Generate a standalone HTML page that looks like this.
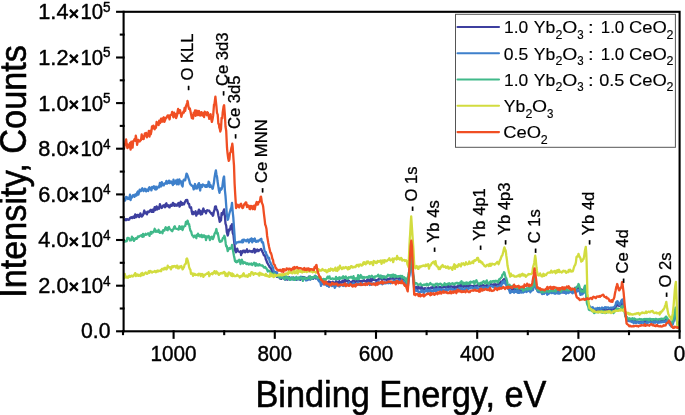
<!DOCTYPE html>
<html><head><meta charset="utf-8"><title>XPS survey spectra</title>
<style>html,body{margin:0;padding:0;background:#fff;}body{width:685px;height:415px;overflow:hidden;position:relative;font-family:"Liberation Sans",Arial,sans-serif;}</style>
</head><body>
<svg width="685" height="415" viewBox="0 0 685 415" style="position:absolute;left:0;top:0">
<rect x="0" y="0" width="685" height="415" fill="#fff"/>
<g fill="none" stroke-width="2.3" stroke-linejoin="round" stroke-linecap="round">
<path stroke="#3d3f9f" d="M124.1,220.0 L124.8,219.7 L125.4,219.3 L126.1,220.2 L126.7,219.2 L127.4,219.2 L128.0,219.8 L128.7,219.6 L129.3,219.5 L130.0,217.9 L130.6,217.7 L131.3,217.1 L131.9,218.0 L132.6,218.1 L133.2,216.6 L134.0,216.5 L134.5,217.9 L135.2,214.4 L135.8,216.5 L136.5,217.0 L137.1,215.1 L137.8,214.8 L138.4,215.2 L139.1,217.1 L139.7,216.0 L140.4,213.4 L141.0,215.2 L141.7,216.6 L142.3,216.0 L143.0,215.0 L143.6,213.4 L144.0,211.6 L144.3,210.5 L144.9,213.3 L145.6,212.3 L146.2,212.8 L146.9,214.4 L147.5,211.7 L148.2,211.7 L148.8,212.3 L149.5,211.0 L150.1,210.4 L150.8,209.8 L151.4,211.9 L152.1,211.9 L152.7,209.6 L153.4,211.8 L154.0,210.0 L154.7,207.1 L155.3,210.0 L156.0,208.5 L156.6,206.4 L157.3,209.5 L157.9,207.6 L158.6,207.2 L159.2,208.7 L159.9,204.1 L160.5,205.9 L161.2,207.3 L161.8,208.0 L162.5,206.3 L163.1,205.6 L163.8,205.3 L164.4,206.7 L165.1,207.3 L165.7,204.0 L166.4,203.3 L167.0,206.2 L167.7,205.8 L168.0,205.5 L168.3,205.2 L169.0,207.1 L169.6,207.4 L170.3,205.1 L170.9,204.7 L171.6,205.9 L172.2,204.7 L172.9,202.9 L173.5,205.4 L174.2,203.9 L174.8,205.9 L175.5,204.5 L176.0,204.9 L176.8,205.8 L177.4,204.6 L178.1,203.4 L178.7,202.9 L179.4,206.6 L180.0,206.0 L180.7,201.7 L181.3,202.3 L182.0,204.8 L182.6,203.2 L183.0,203.8 L183.3,203.9 L183.9,204.5 L184.6,202.8 L185.2,201.6 L185.5,201.0 L185.9,200.2 L186.5,200.0 L187.2,200.0 L187.5,200.8 L187.8,202.8 L188.5,203.9 L189.1,204.0 L189.5,206.2 L189.8,207.4 L190.4,207.9 L191.1,207.3 L191.7,211.3 L192.3,214.1 L193.0,211.9 L193.7,214.1 L194.3,212.8 L195.0,213.4 L195.6,211.3 L196.3,215.7 L196.9,213.4 L197.6,213.9 L198.0,212.2 L198.9,209.7 L199.5,213.3 L200.2,210.8 L200.8,214.6 L201.5,211.7 L202.1,214.1 L202.8,210.2 L203.4,208.5 L204.3,211.6 L204.7,211.0 L205.4,211.1 L206.0,213.3 L206.7,210.7 L207.3,210.2 L208.0,210.6 L208.6,210.7 L209.0,210.7 L209.3,210.7 L209.9,212.1 L210.6,212.7 L211.2,213.8 L211.9,213.2 L212.5,215.2 L212.8,215.8 L213.2,215.3 L213.8,211.7 L214.5,210.0 L215.1,206.5 L215.9,206.3 L216.4,209.1 L217.1,209.9 L217.8,211.9 L218.4,215.5 L219.0,217.9 L219.7,221.8 L220.0,221.6 L220.3,219.8 L221.0,220.4 L221.6,213.2 L222.0,214.1 L222.3,214.7 L222.9,212.5 L223.6,211.0 L224.1,209.4 L224.9,216.1 L225.5,223.7 L225.5,223.7 L226.2,225.6 L226.8,232.0 L226.8,232.0 L227.7,235.5 L228.1,234.6 L228.8,229.6 L229.4,230.5 L229.8,229.7 L230.1,229.5 L230.7,226.1 L231.4,225.7 L232.0,224.1 L232.0,224.1 L232.7,232.8 L233.5,235.1 L234.0,240.4 L234.6,245.6 L235.0,250.6 L235.3,250.8 L235.9,252.3 L236.6,250.6 L237.2,248.6 L237.9,251.0 L238.5,251.5 L239.2,251.8 L240.0,252.0 L240.5,251.3 L241.1,255.0 L241.8,251.5 L242.4,252.7 L243.1,250.7 L243.7,251.6 L244.4,250.6 L245.0,252.4 L245.3,252.1 L245.7,251.6 L246.3,250.8 L247.0,249.3 L247.6,252.1 L248.3,251.8 L248.9,251.5 L249.6,250.6 L250.2,251.4 L250.9,251.6 L251.5,251.1 L252.2,252.1 L253.0,250.7 L253.5,251.1 L254.1,248.8 L254.8,252.7 L255.4,249.7 L256.1,251.0 L256.7,251.4 L257.4,249.5 L258.0,250.1 L258.7,251.0 L259.0,250.5 L259.3,250.0 L260.0,249.7 L260.6,249.4 L261.0,249.0 L261.3,249.2 L261.9,250.8 L262.6,252.2 L263.0,252.9 L263.9,255.3 L264.5,255.2 L265.2,256.3 L265.8,259.3 L265.8,259.3 L266.5,260.6 L267.1,262.6 L268.0,264.0 L268.4,264.9 L269.1,265.9 L269.7,267.4 L270.6,267.6 L271.0,268.7 L271.7,269.8 L272.3,271.8 L273.0,271.3 L273.6,273.0 L274.0,273.2 L274.3,273.2 L274.9,271.8 L275.6,274.9 L276.2,275.2 L276.9,276.7 L277.5,275.1 L278.2,277.1 L279.0,277.2 L279.5,276.4 L280.1,278.5 L280.8,277.8 L281.4,278.9 L282.1,276.8 L282.7,277.6 L283.4,277.6 L284.0,277.0 L284.7,278.4 L285.0,279.0 L285.3,279.5 L286.0,278.2 L286.6,278.9 L287.3,279.7 L287.9,279.1 L288.6,278.2 L289.2,277.2 L289.9,278.9 L290.5,278.4 L291.2,278.3 L291.8,279.1 L292.5,279.0 L293.1,277.4 L293.8,278.8 L294.4,278.3 L295.0,279.2 L295.7,278.8 L296.4,279.7 L297.0,278.5 L297.7,278.6 L298.3,278.5 L299.0,278.8 L299.6,278.8 L300.3,279.9 L300.9,277.9 L301.6,278.7 L302.2,277.3 L302.9,276.9 L303.5,277.7 L304.2,277.1 L305.0,278.5 L305.5,278.0 L306.1,277.8 L306.8,278.9 L307.4,280.0 L308.1,278.4 L308.7,276.8 L309.4,277.8 L310.0,278.1 L310.7,279.3 L311.3,278.1 L312.0,277.4 L312.6,278.6 L313.0,278.7 L313.3,278.8 L313.9,277.5 L314.6,277.5 L315.2,277.4 L316.0,278.5 L316.5,276.8 L317.2,277.5 L317.8,278.3 L318.5,279.6 L319.1,279.0 L319.8,279.8 L320.4,280.5 L321.1,281.8 L321.7,280.6 L322.4,281.0 L323.0,281.4 L323.0,281.4 L323.7,280.5 L324.3,281.1 L325.0,282.0 L325.6,282.0 L326.3,283.9 L326.9,282.7 L327.6,282.1 L328.2,282.8 L328.9,281.5 L329.5,281.8 L330.0,281.9 L330.8,282.4 L331.5,284.1 L332.1,282.3 L332.8,281.8 L333.4,282.3 L334.1,283.0 L334.7,282.6 L335.4,282.8 L336.0,281.3 L336.7,281.6 L337.3,282.3 L338.0,282.5 L338.6,283.5 L339.3,281.1 L339.9,282.8 L340.6,282.1 L341.2,282.7 L341.9,281.4 L342.5,280.7 L343.2,282.5 L343.8,281.8 L344.5,279.9 L345.1,281.8 L345.8,280.2 L346.4,281.2 L347.1,281.1 L347.7,280.0 L348.4,282.2 L349.0,280.9 L349.7,282.9 L350.3,282.3 L351.0,282.0 L351.6,281.9 L352.3,283.6 L352.9,280.8 L353.5,280.8 L354.2,280.9 L354.9,282.1 L355.5,282.0 L356.2,281.0 L356.8,281.0 L357.5,279.4 L358.1,282.3 L358.8,281.0 L359.4,281.3 L360.1,281.0 L360.7,281.7 L361.4,280.9 L362.0,281.5 L362.7,281.4 L363.3,280.5 L364.0,280.2 L364.6,281.2 L365.3,281.2 L365.9,281.5 L366.6,281.9 L367.2,279.6 L367.9,279.1 L368.5,280.6 L369.2,281.8 L369.8,280.7 L370.5,279.0 L371.1,281.6 L371.8,280.6 L372.4,278.8 L373.1,278.9 L373.7,279.9 L374.4,279.4 L375.0,280.0 L375.7,280.6 L376.3,280.1 L376.8,280.8 L377.6,279.8 L378.3,280.7 L378.9,278.7 L379.6,278.3 L380.2,277.5 L380.9,278.5 L381.5,279.5 L382.2,280.1 L382.8,276.4 L383.5,279.4 L384.1,278.3 L384.8,279.5 L385.4,278.2 L386.1,278.9 L386.7,280.2 L387.4,279.0 L388.0,278.6 L388.7,279.6 L389.3,279.2 L390.0,278.7 L390.6,277.6 L391.3,278.5 L391.9,277.2 L392.6,278.6 L393.2,278.7 L393.9,277.9 L394.5,279.4 L395.2,276.7 L395.5,277.5 L395.8,278.2 L396.5,277.9 L397.1,277.0 L397.8,278.5 L398.4,278.8 L399.1,279.1 L399.7,278.3 L400.4,278.7 L401.0,277.5 L401.7,279.1 L402.3,279.6 L403.0,278.4 L403.6,279.0 L404.3,278.5 L404.9,280.0 L405.5,280.4 L406.2,282.9 L406.9,283.2 L407.5,287.2 L407.5,287.2 L408.2,281.7 L408.8,277.9 L409.5,272.4 L410.1,265.3 L410.8,260.3 L411.2,254.7 L412.1,262.6 L412.7,272.1 L413.0,275.8 L413.4,278.5 L414.0,283.3 L414.5,289.0 L415.3,287.3 L416.0,289.3 L416.6,286.9 L417.3,289.3 L417.9,288.1 L418.6,286.9 L419.2,288.5 L420.0,288.2 L420.5,287.4 L421.2,289.1 L421.8,287.0 L422.5,288.9 L423.1,288.6 L423.8,289.6 L424.4,288.2 L425.1,289.4 L425.7,288.2 L426.4,289.2 L427.0,289.0 L427.7,289.4 L428.3,287.7 L429.0,288.7 L429.6,288.4 L430.0,288.9 L430.3,289.2 L430.9,287.6 L431.6,287.4 L432.2,288.0 L432.9,288.0 L433.5,285.7 L434.2,287.4 L434.8,288.1 L435.5,287.6 L436.1,286.6 L436.8,287.8 L437.4,287.9 L438.1,287.3 L438.7,287.8 L439.4,287.0 L440.0,287.3 L440.7,286.9 L441.3,288.1 L442.0,287.1 L442.6,287.6 L443.0,287.1 L443.3,286.8 L443.9,285.8 L444.6,285.7 L445.2,287.6 L445.9,285.7 L446.5,285.5 L447.2,287.4 L447.8,286.0 L448.5,285.5 L449.1,287.7 L449.8,285.7 L450.4,286.9 L451.1,286.4 L451.7,286.5 L452.4,286.7 L453.0,287.5 L453.7,287.9 L454.3,286.2 L455.0,287.9 L455.6,286.8 L456.3,286.7 L456.9,287.3 L457.6,286.2 L458.2,285.9 L458.9,287.7 L459.5,286.0 L460.2,284.6 L460.8,283.6 L461.5,286.5 L462.1,286.2 L462.8,287.6 L463.4,285.1 L464.1,285.0 L464.7,285.9 L465.4,287.1 L466.0,287.1 L466.7,285.8 L467.3,285.2 L468.0,285.9 L468.6,287.0 L469.5,285.5 L469.9,285.2 L470.6,285.9 L471.2,285.9 L471.9,285.9 L472.5,287.3 L473.2,286.5 L473.8,285.9 L474.5,285.8 L475.1,285.8 L475.8,286.4 L476.4,286.3 L477.1,285.3 L477.7,285.1 L478.4,285.5 L479.0,284.9 L479.7,286.1 L480.3,284.4 L481.0,285.6 L481.6,286.2 L482.3,284.8 L482.9,284.9 L483.6,285.4 L484.2,286.1 L484.9,285.9 L485.5,285.9 L486.2,286.6 L486.8,285.2 L487.5,285.0 L488.1,286.1 L488.8,285.8 L489.4,286.3 L490.0,286.1 L490.7,284.6 L491.4,283.8 L492.0,285.8 L492.7,285.2 L493.3,285.2 L494.0,284.2 L494.6,285.3 L495.3,284.3 L495.9,284.7 L496.6,285.0 L497.2,284.3 L497.9,284.3 L498.6,284.1 L499.2,286.2 L499.8,282.6 L500.5,283.8 L501.1,281.5 L502.0,281.8 L502.4,282.4 L503.1,280.0 L503.7,280.6 L504.2,279.0 L505.0,281.3 L505.7,280.8 L506.5,283.5 L507.0,285.7 L507.6,285.9 L508.3,286.1 L509.0,287.8 L509.6,286.5 L510.2,288.4 L510.9,287.8 L511.5,288.3 L512.2,290.2 L512.8,288.9 L513.5,288.8 L514.1,288.5 L514.8,289.9 L515.4,290.0 L516.1,289.1 L516.7,288.6 L517.0,289.0 L517.4,289.4 L518.0,289.9 L518.7,288.4 L519.3,290.7 L520.0,289.2 L520.6,290.0 L521.3,289.4 L521.9,289.4 L522.6,290.7 L523.2,290.0 L523.9,288.7 L524.5,289.8 L525.2,289.9 L525.8,289.1 L526.5,290.0 L527.1,288.5 L527.7,289.8 L528.4,289.4 L529.1,289.6 L529.7,290.7 L530.4,290.2 L531.0,289.3 L531.7,289.9 L532.3,287.9 L533.0,287.6 L533.5,287.0 L534.3,284.1 L534.8,280.8 L535.6,284.1 L536.2,287.4 L536.2,287.4 L536.9,289.1 L537.5,289.8 L537.8,291.0 L538.2,291.4 L538.8,291.5 L539.5,292.1 L540.1,291.1 L540.8,291.0 L541.4,290.4 L542.1,290.3 L542.7,291.8 L543.4,291.4 L544.0,291.2 L544.7,292.5 L545.0,292.3 L545.3,292.1 L546.0,291.6 L546.6,292.3 L547.3,291.5 L547.9,292.3 L548.6,291.9 L549.2,291.2 L550.0,291.2 L550.5,290.9 L551.2,292.0 L551.8,291.2 L552.5,290.4 L553.1,291.8 L553.8,291.9 L554.4,291.6 L555.1,291.8 L555.7,291.5 L556.4,291.4 L557.0,292.4 L557.7,290.9 L558.3,290.4 L559.0,290.5 L559.6,292.0 L560.3,290.6 L560.9,291.1 L561.6,290.8 L562.2,290.8 L562.9,291.3 L563.5,291.2 L564.2,292.8 L564.8,291.0 L565.5,291.4 L566.1,292.4 L566.8,291.8 L567.4,291.5 L568.1,291.7 L568.7,290.9 L569.4,291.7 L570.0,291.4 L570.7,290.6 L571.3,292.4 L572.0,290.9 L572.6,291.3 L573.0,290.9 L573.3,290.5 L573.9,289.7 L574.6,289.0 L575.2,287.7 L576.0,290.1 L576.5,288.1 L577.2,288.4 L577.8,287.9 L578.5,286.1 L579.1,287.9 L579.8,290.1 L580.5,291.0 L581.1,291.5 L581.7,289.5 L582.4,291.9 L583.0,292.2 L583.0,292.2 L583.7,289.6 L584.3,290.2 L585.0,288.4 L585.3,288.1 L585.6,290.1 L586.3,294.7 L586.6,296.2 L586.9,297.3 L587.6,302.5 L588.0,304.6 L588.9,306.6 L589.5,307.1 L590.2,308.3 L590.5,308.5 L590.8,308.3 L591.5,309.1 L592.1,308.6 L592.8,309.1 L593.4,309.1 L594.1,310.1 L594.4,309.9 L594.7,309.7 L595.4,311.4 L596.0,309.7 L596.7,309.1 L597.3,310.8 L598.0,310.0 L598.6,310.4 L599.3,310.3 L599.9,309.8 L600.6,309.9 L601.2,309.6 L602.0,310.8 L602.5,310.5 L603.2,309.6 L603.8,310.8 L604.5,310.6 L605.1,309.3 L605.8,309.6 L606.4,310.2 L607.1,310.2 L607.7,311.0 L608.4,309.8 L609.0,310.2 L609.7,309.6 L610.3,309.9 L610.9,309.9 L611.6,309.7 L612.3,309.7 L612.9,309.6 L613.6,308.6 L614.2,309.7 L614.5,309.2 L614.9,308.1 L615.5,308.0 L616.2,306.5 L616.8,305.2 L617.2,303.8 L617.5,303.8 L618.1,305.0 L618.8,305.8 L619.4,305.7 L619.7,305.8 L620.1,304.8 L620.7,305.6 L621.4,303.3 L622.0,302.1 L622.3,301.5 L622.7,302.6 L623.3,304.8 L624.0,306.6 L624.6,310.4 L625.3,313.6 L625.6,315.4 L625.9,316.0 L626.6,318.5 L627.2,318.7 L628.0,320.0 L628.5,320.1 L629.2,320.0 L629.8,321.0 L630.5,321.1 L631.1,320.2 L631.8,321.1 L632.4,321.0 L633.1,322.0 L633.7,321.4 L634.4,320.3 L635.0,320.9 L635.7,321.6 L636.0,321.6 L636.3,321.5 L637.0,322.0 L637.6,321.5 L638.3,321.6 L638.9,322.3 L639.6,321.8 L640.2,321.6 L640.9,322.7 L641.5,321.6 L642.2,321.5 L642.8,321.1 L643.5,321.6 L644.1,320.7 L644.8,322.1 L645.4,320.6 L646.1,321.7 L646.7,321.0 L647.4,321.4 L648.0,321.9 L648.8,321.4 L649.3,321.5 L650.0,320.9 L650.6,321.2 L651.3,321.7 L651.9,321.0 L652.6,321.8 L653.2,321.4 L653.9,321.2 L654.5,321.6 L655.2,320.8 L655.8,321.4 L656.5,320.6 L657.1,321.0 L657.8,320.6 L658.4,321.2 L659.1,321.5 L659.7,321.6 L660.4,321.3 L661.0,321.2 L661.5,321.0 L662.3,320.9 L663.0,320.5 L663.6,321.7 L664.3,320.6 L665.0,320.4 L665.6,320.1 L666.2,319.3 L666.5,319.5 L666.9,320.4 L667.5,320.2 L668.2,320.6 L668.5,321.6 L668.8,322.6 L669.5,323.2 L670.1,323.9 L670.8,324.2 L671.5,326.0 L672.1,324.0 L672.7,322.2 L673.5,320.4 L674.0,318.0 L674.7,315.0 L675.3,311.4 L675.7,310.8 L676.0,313.5 L676.6,317.5 L677.0,321.3 L677.3,322.6 L677.9,325.1 L678.5,327.6"/>
<path stroke="#3e80cb" d="M124.1,198.6 L124.8,200.7 L125.4,199.9 L126.1,196.8 L126.7,197.4 L127.4,197.3 L128.0,199.0 L128.7,198.0 L129.3,198.8 L130.0,194.6 L130.6,200.1 L131.3,196.8 L131.9,197.6 L132.6,195.7 L133.2,195.0 L134.0,196.2 L134.5,196.9 L135.2,194.5 L135.8,194.5 L136.5,195.5 L137.1,192.8 L137.8,191.5 L138.4,194.6 L139.1,192.2 L139.7,189.6 L140.4,191.1 L141.0,191.1 L141.7,189.4 L142.3,188.3 L143.0,190.2 L143.6,191.1 L144.1,190.0 L144.9,188.7 L145.6,190.8 L146.2,191.4 L146.9,189.5 L147.5,190.4 L148.2,191.0 L148.8,188.2 L149.5,187.1 L150.1,189.4 L150.8,188.3 L151.4,190.4 L152.1,187.0 L152.7,188.1 L153.4,187.8 L154.0,186.3 L154.7,188.8 L155.3,189.5 L156.0,186.7 L156.6,189.3 L157.3,188.0 L157.9,187.4 L158.6,186.3 L159.2,187.2 L159.9,182.9 L160.5,186.4 L161.2,186.3 L161.8,182.1 L162.5,185.2 L163.1,184.0 L163.8,185.4 L164.4,183.3 L165.1,183.4 L165.7,183.6 L166.4,180.8 L167.0,183.6 L167.7,182.3 L168.2,182.9 L169.0,180.6 L169.6,183.2 L170.3,182.8 L170.9,181.4 L171.6,182.5 L172.2,183.6 L172.9,185.0 L173.5,179.7 L174.2,183.9 L174.8,183.1 L175.5,182.1 L176.0,180.5 L176.8,184.3 L177.4,179.6 L178.1,182.5 L178.7,184.4 L179.4,179.4 L180.0,182.0 L180.7,180.9 L181.3,183.6 L182.0,185.5 L182.6,186.5 L183.1,181.2 L183.9,179.6 L184.6,180.3 L185.2,180.3 L185.2,180.3 L185.9,176.8 L186.5,173.6 L187.0,174.1 L187.8,176.2 L188.5,178.3 L189.3,180.6 L189.8,183.0 L190.4,184.3 L191.1,184.9 L191.7,185.7 L192.3,185.7 L193.0,186.6 L193.7,189.4 L194.3,186.6 L195.0,184.0 L195.6,188.3 L196.3,186.8 L196.9,188.6 L197.6,185.5 L198.0,184.7 L198.9,183.1 L199.5,188.1 L200.2,190.5 L200.8,184.9 L201.5,185.3 L202.1,187.0 L202.8,184.4 L203.4,185.4 L204.3,185.2 L204.7,185.7 L205.4,186.8 L206.0,185.1 L206.7,186.9 L207.3,184.9 L208.0,186.3 L208.6,181.6 L209.0,182.2 L209.3,182.6 L209.9,187.1 L210.6,185.1 L211.2,187.0 L211.9,187.2 L212.5,188.7 L212.8,188.5 L213.2,186.3 L213.8,183.6 L214.5,178.0 L215.1,174.1 L215.9,170.3 L216.4,174.2 L217.1,177.1 L217.5,181.0 L218.4,186.8 L219.0,190.8 L219.5,192.8 L220.3,188.5 L221.0,189.8 L221.5,189.3 L222.3,186.9 L223.0,181.4 L223.6,177.6 L224.1,176.5 L224.9,190.3 L225.5,195.9 L225.5,195.9 L226.2,205.5 L226.8,214.1 L226.8,214.1 L227.7,219.8 L228.1,219.2 L228.8,216.0 L229.5,213.0 L230.1,211.2 L230.7,209.2 L231.4,207.3 L232.0,202.9 L232.0,202.9 L232.7,211.8 L233.3,217.3 L233.3,217.3 L234.0,227.7 L234.6,236.4 L235.0,242.9 L235.3,243.3 L235.9,243.6 L236.6,242.4 L237.2,242.3 L237.9,242.4 L238.5,241.8 L239.2,242.1 L240.0,241.7 L240.5,242.1 L241.1,241.5 L241.8,242.3 L242.4,239.8 L243.1,242.2 L243.7,239.7 L244.4,239.7 L245.0,240.5 L245.3,240.4 L245.7,240.3 L246.3,241.3 L247.0,240.1 L247.6,239.4 L248.3,239.9 L248.9,242.5 L249.6,240.8 L250.2,239.3 L250.9,240.7 L251.5,238.4 L252.2,242.4 L253.0,239.1 L253.5,240.8 L254.1,241.0 L254.8,238.5 L255.4,240.7 L256.1,241.9 L256.7,241.1 L257.4,240.6 L258.0,241.6 L258.7,240.4 L259.0,240.5 L259.3,240.4 L260.0,239.6 L260.6,240.2 L261.0,239.0 L261.3,238.7 L261.9,242.4 L262.6,241.9 L263.0,242.4 L263.9,247.3 L264.5,250.6 L265.2,251.8 L265.8,252.1 L265.8,252.1 L266.5,254.9 L267.1,255.2 L267.8,257.4 L268.5,258.6 L269.1,257.8 L269.7,261.9 L270.4,262.3 L271.0,264.4 L271.8,265.5 L272.3,266.2 L273.0,268.0 L273.6,270.9 L274.3,272.7 L275.0,272.3 L275.6,273.6 L276.2,272.9 L276.9,272.1 L277.5,274.7 L278.2,275.8 L279.0,276.4 L279.5,277.2 L280.1,277.5 L280.8,276.3 L281.4,276.0 L282.1,277.3 L282.7,277.2 L283.4,277.1 L284.0,278.4 L284.7,279.3 L285.0,278.4 L285.3,277.6 L286.0,278.6 L286.6,278.7 L287.3,278.6 L287.9,278.8 L288.6,277.5 L289.2,278.5 L289.9,279.8 L290.5,278.7 L291.2,277.5 L291.8,278.6 L292.5,279.4 L293.1,278.8 L293.8,277.9 L294.4,279.6 L295.0,277.7 L295.7,279.1 L296.4,278.7 L297.0,277.7 L297.7,279.5 L298.3,278.8 L299.0,277.7 L299.6,279.1 L300.3,278.2 L300.9,276.6 L301.6,277.5 L302.2,278.5 L302.9,279.0 L303.5,278.7 L304.2,278.7 L305.0,279.2 L305.5,279.2 L306.1,280.5 L306.8,279.3 L307.4,279.4 L308.1,279.5 L308.7,277.8 L309.4,277.9 L310.0,279.7 L310.7,278.4 L311.3,278.0 L312.0,278.4 L312.6,277.6 L313.0,278.0 L313.3,278.1 L313.9,277.1 L314.6,277.4 L315.2,275.6 L316.0,277.3 L316.5,276.9 L317.2,277.1 L317.8,279.3 L318.5,280.3 L319.1,281.3 L319.8,281.0 L320.4,282.7 L321.1,285.9 L321.7,282.2 L322.4,283.9 L323.0,283.9 L323.0,283.9 L323.7,284.3 L324.3,282.7 L325.0,283.5 L325.6,284.6 L326.3,284.5 L326.9,285.9 L327.6,283.9 L328.2,284.8 L328.9,286.9 L329.5,284.2 L330.0,284.2 L330.8,285.0 L331.5,285.0 L332.1,286.1 L332.8,285.6 L333.4,285.1 L334.1,285.7 L334.7,287.8 L335.4,286.7 L336.0,283.8 L336.7,285.6 L337.3,284.8 L338.0,285.6 L338.6,284.9 L339.3,286.5 L339.9,285.6 L340.6,285.3 L341.2,284.8 L341.9,284.7 L342.5,285.2 L343.2,286.0 L343.8,285.1 L344.5,284.5 L345.1,285.6 L345.8,284.7 L346.4,284.5 L347.1,283.9 L347.7,283.9 L348.4,283.9 L349.0,282.1 L349.7,285.1 L350.3,285.1 L351.0,284.5 L351.6,285.4 L352.3,285.0 L352.9,284.9 L353.5,282.6 L354.2,284.2 L354.9,284.6 L355.5,285.2 L356.2,285.4 L356.8,285.0 L357.5,283.1 L358.1,282.5 L358.8,284.7 L359.4,284.3 L360.1,285.1 L360.7,284.3 L361.4,284.6 L362.0,283.2 L362.7,284.7 L363.3,283.9 L364.0,284.3 L364.6,284.5 L365.3,283.8 L365.9,284.0 L366.6,283.6 L367.2,284.1 L367.9,283.9 L368.5,282.9 L369.2,282.9 L369.8,285.0 L370.5,283.8 L371.1,284.7 L371.8,284.1 L372.4,283.4 L373.1,283.6 L373.7,284.1 L374.4,283.8 L375.0,284.0 L375.7,282.6 L376.3,282.9 L376.8,283.1 L377.6,284.4 L378.3,281.1 L378.9,283.5 L379.6,282.7 L380.2,283.4 L380.9,282.7 L381.5,283.2 L382.2,284.2 L382.8,283.3 L383.5,283.5 L384.1,283.3 L384.8,282.2 L385.4,283.4 L386.1,283.1 L386.7,282.5 L387.4,283.0 L388.0,282.4 L388.7,283.2 L389.3,282.5 L390.0,281.8 L390.6,283.2 L391.3,282.7 L391.9,282.5 L392.6,281.9 L393.2,281.2 L393.9,281.0 L394.5,281.0 L395.2,282.0 L395.5,281.7 L395.8,281.5 L396.5,280.5 L397.1,281.7 L397.8,280.6 L398.4,281.9 L399.1,280.7 L399.7,280.4 L400.4,281.5 L401.0,281.2 L401.7,280.2 L402.3,282.2 L403.0,283.1 L403.6,281.0 L404.3,284.6 L404.9,283.1 L405.5,283.8 L406.2,285.2 L406.9,285.5 L407.5,288.9 L407.5,288.9 L408.2,284.3 L408.8,278.6 L409.5,274.5 L410.1,266.9 L410.8,260.7 L411.2,256.6 L412.1,264.7 L412.7,273.4 L413.0,277.4 L413.4,280.7 L414.0,287.0 L414.5,291.1 L415.3,289.8 L416.0,289.8 L416.6,290.8 L417.3,290.7 L417.9,291.0 L418.6,292.0 L419.2,292.6 L420.0,291.7 L420.5,291.5 L421.2,292.0 L421.8,290.2 L422.5,291.5 L423.1,290.8 L423.8,293.1 L424.4,292.0 L425.1,291.2 L425.7,290.9 L426.4,289.1 L427.0,291.2 L427.7,291.9 L428.3,290.2 L429.0,291.3 L429.6,291.5 L430.0,290.3 L430.3,289.6 L430.9,291.4 L431.6,291.9 L432.2,290.9 L432.9,290.6 L433.5,291.1 L434.2,289.4 L434.8,290.7 L435.5,291.0 L436.1,289.3 L436.8,290.8 L437.4,289.7 L438.1,288.4 L438.7,289.9 L439.4,289.1 L440.0,290.3 L440.7,289.1 L441.3,291.0 L442.0,289.8 L442.6,290.5 L443.0,289.8 L443.3,289.4 L443.9,289.7 L444.6,290.8 L445.2,290.1 L445.9,289.5 L446.5,288.7 L447.2,290.5 L447.8,290.3 L448.5,289.4 L449.1,289.6 L449.8,288.7 L450.4,288.6 L451.1,288.9 L451.7,289.7 L452.4,289.6 L453.0,289.1 L453.7,290.2 L454.3,290.1 L455.0,289.8 L455.6,290.2 L456.3,289.1 L456.9,289.4 L457.6,289.6 L458.2,289.2 L458.9,289.6 L459.5,287.8 L460.2,289.9 L460.8,288.3 L461.5,288.7 L462.1,287.9 L462.8,289.6 L463.4,290.4 L464.1,290.3 L464.7,289.9 L465.4,288.2 L466.0,288.7 L466.7,288.7 L467.3,288.1 L468.0,289.3 L468.6,288.3 L469.5,288.3 L469.9,288.3 L470.6,287.1 L471.2,287.1 L471.9,287.2 L472.5,288.4 L473.2,288.3 L473.8,288.6 L474.5,289.0 L475.1,287.3 L475.8,287.9 L476.4,288.3 L477.1,287.2 L477.7,287.8 L478.4,288.8 L479.0,288.7 L479.7,288.6 L480.3,287.8 L481.0,287.7 L481.6,288.7 L482.3,287.4 L482.9,288.1 L483.6,288.8 L484.2,287.6 L484.9,287.4 L485.5,287.5 L486.2,288.0 L486.8,288.0 L487.5,287.6 L488.1,287.7 L488.8,285.9 L489.4,286.4 L490.0,287.2 L490.7,286.3 L491.4,286.0 L492.0,286.1 L492.7,286.6 L493.3,287.3 L494.0,286.6 L494.6,287.4 L495.3,288.4 L495.9,286.9 L496.6,288.2 L497.2,287.4 L497.9,286.2 L498.6,286.9 L499.2,286.1 L499.8,286.9 L500.5,284.8 L501.1,286.2 L502.0,283.9 L502.4,281.8 L503.1,283.1 L503.7,282.9 L504.2,280.8 L505.0,283.5 L505.7,282.6 L506.5,285.7 L507.0,285.8 L507.6,288.5 L508.3,288.4 L509.0,289.6 L509.6,291.5 L510.2,293.0 L510.9,290.8 L511.5,292.1 L512.2,291.7 L512.8,291.3 L513.5,292.0 L514.1,292.7 L514.8,290.5 L515.4,291.9 L516.1,291.6 L516.7,290.5 L517.0,291.6 L517.4,292.7 L518.0,292.8 L518.7,290.8 L519.3,292.9 L520.0,291.8 L520.6,291.6 L521.3,292.5 L521.9,291.6 L522.6,291.7 L523.2,292.5 L523.9,292.1 L524.5,291.7 L525.2,289.9 L525.8,290.0 L526.5,292.0 L527.1,290.7 L527.7,291.2 L528.4,290.4 L529.1,290.9 L529.7,290.3 L530.4,292.3 L531.0,290.2 L531.7,290.8 L532.3,289.9 L533.0,290.0 L533.5,287.7 L534.3,286.1 L534.8,284.3 L535.6,287.0 L536.2,288.9 L536.2,288.9 L536.9,289.4 L537.5,291.2 L537.8,291.6 L538.2,291.3 L538.8,292.1 L539.5,291.7 L540.1,291.6 L540.8,292.2 L541.4,292.6 L542.1,294.1 L542.7,292.3 L543.4,292.9 L544.0,293.9 L544.7,291.6 L545.0,291.8 L545.3,291.9 L546.0,292.2 L546.6,293.1 L547.3,294.8 L547.9,293.4 L548.6,293.9 L549.2,292.7 L550.0,290.9 L550.5,291.0 L551.2,293.1 L551.8,292.5 L552.5,291.3 L553.1,293.1 L553.8,291.3 L554.4,293.3 L555.1,293.7 L555.7,292.2 L556.4,292.0 L557.0,293.4 L557.7,292.2 L558.3,293.6 L559.0,292.2 L559.6,293.6 L560.3,293.0 L560.9,292.7 L561.6,292.2 L562.2,292.8 L562.9,291.3 L563.5,292.3 L564.2,292.2 L564.8,292.8 L565.5,291.5 L566.1,293.6 L566.8,292.0 L567.4,291.3 L568.1,292.9 L568.7,293.1 L569.4,291.7 L570.0,291.1 L570.7,291.9 L571.3,291.5 L572.0,291.8 L572.6,293.2 L573.0,292.7 L573.3,292.3 L573.9,292.2 L574.6,292.4 L575.2,291.9 L576.0,292.5 L576.5,291.9 L577.2,290.4 L577.8,290.2 L578.5,290.8 L579.1,290.8 L579.8,291.9 L580.5,294.9 L581.1,293.7 L581.7,293.1 L582.4,294.3 L583.0,293.4 L583.0,293.4 L583.7,292.6 L584.3,292.2 L585.0,290.8 L585.3,290.1 L585.6,291.7 L586.3,295.4 L586.6,297.4 L586.9,298.7 L587.6,302.4 L588.0,303.5 L588.9,304.5 L589.5,307.0 L590.2,306.4 L590.5,307.6 L590.8,308.3 L591.5,308.3 L592.1,307.8 L592.8,307.2 L593.4,308.5 L594.1,308.8 L594.4,309.1 L594.7,309.2 L595.4,308.5 L596.0,309.2 L596.7,309.2 L597.3,307.9 L598.0,309.1 L598.6,308.5 L599.3,307.9 L599.9,308.2 L600.6,309.4 L601.2,308.8 L602.0,307.5 L602.5,308.4 L603.2,308.2 L603.8,308.2 L604.5,307.8 L605.1,307.1 L605.8,308.5 L606.4,307.4 L607.1,307.7 L607.7,307.5 L608.4,307.5 L609.0,308.3 L609.7,308.3 L610.3,307.8 L610.9,307.6 L611.6,307.6 L612.3,308.2 L612.9,307.5 L613.6,307.4 L614.2,307.0 L614.5,306.9 L614.9,306.1 L615.5,305.0 L616.2,302.2 L616.8,303.0 L617.2,301.3 L617.5,301.1 L618.1,302.2 L618.8,304.2 L619.4,304.6 L619.7,305.0 L620.1,304.2 L620.7,302.4 L621.4,300.5 L622.0,299.9 L622.3,299.5 L622.7,301.2 L623.3,302.7 L624.0,306.7 L624.6,309.1 L625.3,313.4 L625.6,315.9 L625.9,316.9 L626.6,318.1 L627.2,320.0 L628.0,321.0 L628.5,321.0 L629.2,320.8 L629.8,321.2 L630.5,321.2 L631.1,321.2 L631.8,322.1 L632.4,321.7 L633.1,321.2 L633.7,323.2 L634.4,321.9 L635.0,321.9 L635.7,323.0 L636.0,323.0 L636.3,323.0 L637.0,322.2 L637.6,322.1 L638.3,322.3 L638.9,323.1 L639.6,322.4 L640.2,322.3 L640.9,322.7 L641.5,323.1 L642.2,322.0 L642.8,322.6 L643.5,322.2 L644.1,323.7 L644.8,323.5 L645.4,323.1 L646.1,322.6 L646.7,323.0 L647.4,321.7 L648.0,322.7 L648.8,322.0 L649.3,321.9 L650.0,322.2 L650.6,322.3 L651.3,322.7 L651.9,322.7 L652.6,322.4 L653.2,321.8 L653.9,322.7 L654.5,322.2 L655.2,322.7 L655.8,321.7 L656.5,320.9 L657.1,322.0 L657.8,323.1 L658.4,322.3 L659.1,322.0 L659.7,322.5 L660.4,322.4 L661.0,322.4 L661.5,322.1 L662.3,322.2 L663.0,322.2 L663.6,321.8 L664.3,321.5 L665.0,322.0 L665.6,321.7 L666.2,320.8 L666.5,320.4 L666.9,320.7 L667.5,321.4 L668.2,322.9 L668.5,322.9 L668.8,322.9 L669.5,324.0 L670.1,325.2 L670.8,325.4 L671.5,326.6 L672.1,325.6 L672.7,324.4 L673.5,322.0 L674.0,319.8 L674.7,316.9 L675.3,313.3 L675.7,312.2 L676.0,314.5 L676.6,318.9 L677.0,321.6 L677.3,322.4 L677.9,325.6 L678.5,328.0"/>
<path stroke="#41b98a" d="M124.1,240.7 L124.8,241.7 L125.4,241.2 L126.1,240.6 L126.7,241.2 L127.4,237.9 L128.0,238.4 L128.7,237.9 L129.3,239.1 L130.0,240.5 L130.6,239.5 L131.3,240.2 L131.9,236.7 L132.6,239.3 L133.2,238.0 L134.0,240.9 L134.5,239.7 L135.2,239.3 L135.8,238.1 L136.5,238.9 L137.1,238.5 L137.8,236.6 L138.4,236.3 L139.1,236.7 L139.7,236.1 L140.4,235.6 L141.0,235.5 L141.7,235.1 L142.3,236.8 L143.0,233.9 L143.6,236.7 L144.0,235.4 L144.3,234.6 L144.9,234.8 L145.6,233.8 L146.2,234.7 L146.9,234.4 L147.5,234.2 L148.2,233.3 L148.8,233.9 L149.5,235.9 L150.1,233.5 L150.8,231.9 L151.4,233.7 L152.1,232.0 L152.7,232.4 L153.4,232.4 L154.0,231.0 L154.7,228.8 L155.3,230.9 L156.0,231.9 L156.6,230.7 L157.3,231.4 L157.9,231.7 L158.6,229.8 L159.2,232.2 L159.9,232.9 L160.5,231.8 L161.2,232.1 L161.8,231.9 L162.5,233.3 L163.1,230.1 L163.8,230.1 L164.4,230.5 L165.1,228.6 L165.7,227.3 L166.4,228.2 L167.0,230.0 L167.7,230.2 L168.0,228.6 L168.3,227.4 L169.0,227.0 L169.6,228.8 L170.3,229.5 L170.9,229.8 L171.6,230.7 L172.2,231.3 L172.9,229.4 L173.5,229.3 L174.2,226.9 L174.8,226.3 L175.5,228.4 L176.0,228.6 L176.8,228.8 L177.4,228.8 L178.1,229.4 L178.7,229.6 L179.4,226.2 L180.0,227.2 L180.7,228.8 L181.3,229.0 L182.0,226.4 L182.6,230.0 L183.0,228.8 L183.3,227.6 L183.9,226.6 L184.6,226.2 L185.2,226.0 L185.5,224.1 L185.9,221.9 L186.5,224.0 L187.2,221.8 L187.5,220.7 L187.8,221.2 L188.5,224.3 L189.1,224.1 L189.5,226.6 L189.8,228.1 L190.4,230.7 L191.1,231.4 L191.7,233.6 L192.3,235.4 L193.0,235.7 L193.7,237.2 L194.3,236.0 L195.0,235.6 L195.6,236.4 L196.3,238.2 L196.9,234.8 L197.6,235.9 L198.0,233.7 L198.9,236.0 L199.5,235.3 L200.2,236.6 L200.8,235.4 L201.5,234.7 L202.1,237.1 L202.8,237.1 L203.4,235.5 L204.3,235.5 L204.7,236.9 L205.4,236.3 L206.0,240.0 L206.7,236.3 L207.3,236.7 L208.0,237.4 L208.6,235.9 L209.0,236.4 L209.3,236.8 L209.9,240.1 L210.6,237.9 L211.2,237.3 L211.9,236.6 L212.5,238.9 L212.8,239.1 L213.2,238.4 L213.8,236.8 L214.5,233.9 L214.8,233.4 L215.1,233.0 L215.8,231.6 L216.4,229.0 L216.4,229.0 L217.1,233.6 L217.7,232.8 L218.0,234.6 L218.4,236.2 L219.0,239.7 L219.7,241.7 L220.0,241.9 L220.3,240.8 L221.0,241.4 L221.6,241.3 L222.3,239.7 L222.9,238.1 L223.6,237.7 L224.3,235.8 L224.9,237.2 L225.5,241.6 L225.8,244.0 L226.2,246.4 L226.8,246.1 L227.7,251.1 L228.1,250.4 L228.8,248.8 L229.4,248.0 L229.8,248.5 L230.1,248.9 L230.7,248.5 L231.4,247.9 L232.0,245.0 L232.0,245.0 L232.7,248.9 L233.5,253.3 L234.0,256.0 L234.6,258.7 L235.0,261.1 L235.3,261.3 L235.9,262.0 L236.6,262.3 L237.2,260.8 L237.9,261.7 L238.5,261.2 L239.2,259.8 L240.0,261.6 L240.5,264.0 L241.1,260.7 L241.8,259.7 L242.4,261.5 L243.1,263.6 L243.7,262.0 L244.4,262.9 L245.0,262.4 L245.3,262.6 L245.7,262.8 L246.3,264.1 L247.0,263.8 L247.6,263.2 L248.3,264.4 L248.9,264.5 L249.6,263.7 L250.2,264.2 L250.9,264.4 L251.5,263.4 L252.2,265.1 L253.0,264.2 L253.5,264.1 L254.1,262.8 L254.8,263.3 L255.4,265.8 L256.1,263.4 L256.7,265.3 L257.4,264.4 L258.0,265.3 L258.7,265.5 L259.3,264.1 L260.0,264.9 L260.6,265.3 L261.0,265.4 L261.3,265.5 L261.9,265.6 L262.6,265.4 L263.2,266.6 L264.0,267.5 L264.5,267.6 L265.2,266.9 L265.8,268.2 L266.5,268.4 L267.0,269.4 L267.8,271.5 L268.4,270.6 L269.1,270.9 L269.7,270.9 L270.4,272.2 L271.0,272.6 L271.0,272.6 L271.7,275.1 L272.3,274.2 L273.0,273.5 L273.6,276.3 L274.3,273.5 L275.0,275.7 L275.6,276.0 L276.2,275.8 L276.9,275.4 L277.5,276.0 L278.2,276.5 L279.0,277.3 L279.5,275.7 L280.1,277.3 L280.8,277.9 L281.4,277.4 L282.1,276.5 L282.7,277.5 L283.4,277.3 L284.0,278.8 L284.7,279.4 L285.0,278.7 L285.3,278.2 L286.0,276.3 L286.6,277.7 L287.3,277.1 L287.9,278.4 L288.6,279.2 L289.2,278.0 L289.9,279.9 L290.5,279.7 L291.2,279.2 L291.8,277.8 L292.5,278.8 L293.1,277.7 L293.8,279.9 L294.4,278.8 L295.0,279.9 L295.7,278.8 L296.4,276.9 L297.0,278.7 L297.7,278.9 L298.3,279.4 L299.0,277.3 L299.6,277.3 L300.3,278.4 L300.9,277.7 L301.6,277.6 L302.2,277.8 L302.9,280.9 L303.5,278.0 L304.2,277.5 L305.0,277.9 L305.5,278.0 L306.1,279.0 L306.8,278.8 L307.4,278.5 L308.1,277.8 L308.7,277.8 L309.4,277.1 L310.0,276.2 L310.7,279.1 L311.3,277.1 L312.0,278.4 L312.6,277.3 L313.0,277.5 L313.3,277.6 L313.9,277.3 L314.6,276.1 L315.2,277.3 L316.0,277.0 L316.5,277.6 L317.2,277.5 L317.8,278.1 L318.5,277.9 L319.1,277.9 L319.8,276.5 L320.4,278.0 L321.1,280.2 L321.7,279.2 L322.4,279.9 L323.0,279.0 L323.0,279.0 L323.7,278.8 L324.3,280.7 L325.0,279.3 L325.6,279.9 L326.3,278.8 L326.9,278.2 L327.6,276.6 L328.2,278.3 L328.9,277.0 L329.5,276.4 L330.0,278.5 L330.8,278.9 L331.5,278.8 L332.1,278.3 L332.8,278.4 L333.4,279.0 L334.1,278.9 L334.7,278.9 L335.4,279.4 L336.0,276.8 L336.7,279.4 L337.3,278.0 L338.0,278.8 L338.6,278.9 L339.3,277.2 L339.9,278.8 L340.6,278.7 L341.2,277.5 L341.9,277.8 L342.5,278.3 L343.2,276.3 L343.8,277.8 L344.5,278.0 L345.1,277.5 L345.8,276.5 L346.4,277.5 L347.1,279.0 L347.7,278.9 L348.4,277.7 L349.0,277.2 L349.7,277.6 L350.3,277.5 L351.0,276.8 L351.6,277.2 L352.3,278.1 L352.9,278.7 L353.5,276.2 L354.2,278.9 L354.9,278.2 L355.5,279.2 L356.2,278.3 L356.8,278.6 L357.5,279.3 L358.1,275.2 L358.8,279.2 L359.4,278.0 L360.1,276.1 L360.7,275.0 L361.4,277.7 L362.0,276.6 L362.7,278.4 L363.3,277.4 L364.0,277.0 L364.6,277.7 L365.3,277.3 L365.9,277.3 L366.6,277.3 L367.2,276.9 L367.9,277.6 L368.5,277.7 L369.2,276.0 L369.8,276.9 L370.5,277.1 L371.1,276.7 L371.8,275.6 L372.4,276.4 L373.1,277.2 L373.7,277.0 L374.4,278.2 L375.0,276.3 L375.7,276.3 L376.3,276.3 L376.8,276.3 L377.6,275.9 L378.3,274.7 L378.9,276.3 L379.6,277.1 L380.2,277.4 L380.9,275.5 L381.5,276.3 L382.2,278.2 L382.8,276.7 L383.5,277.0 L384.1,276.3 L384.8,277.3 L385.4,276.8 L386.1,277.8 L386.7,276.1 L387.4,276.2 L388.0,274.8 L388.7,275.5 L389.3,275.1 L390.0,275.7 L390.6,275.1 L391.3,277.1 L391.9,275.0 L392.6,276.0 L393.2,274.5 L393.9,276.2 L394.5,277.3 L395.2,275.0 L395.5,275.7 L395.8,276.4 L396.5,276.0 L397.1,276.5 L397.8,277.1 L398.4,276.1 L399.1,276.4 L399.7,276.0 L400.4,275.8 L401.0,275.8 L401.7,277.6 L402.3,276.0 L403.0,277.4 L403.6,277.9 L404.3,277.2 L404.9,279.4 L405.5,278.3 L406.2,281.0 L407.0,282.8 L407.5,279.0 L408.2,275.7 L408.8,272.5 L409.5,272.0 L410.1,262.8 L410.8,253.8 L411.2,250.5 L412.1,261.2 L412.7,269.4 L413.0,272.8 L413.4,275.1 L414.0,279.1 L414.5,283.8 L415.3,283.8 L416.0,283.1 L416.6,283.4 L417.3,283.7 L417.9,285.0 L418.6,284.8 L419.2,284.7 L420.0,284.0 L420.5,283.5 L421.2,285.1 L421.8,285.0 L422.5,285.5 L423.1,284.8 L423.8,284.7 L424.4,285.1 L425.1,284.3 L425.7,284.3 L426.4,285.3 L427.0,283.8 L427.7,284.6 L428.3,285.2 L429.0,284.4 L429.6,284.3 L430.0,283.5 L430.3,283.0 L430.9,284.1 L431.6,284.1 L432.2,284.8 L432.9,284.7 L433.5,284.6 L434.2,286.2 L434.8,285.1 L435.5,284.0 L436.1,283.6 L436.8,284.2 L437.4,283.8 L438.1,285.5 L438.7,284.6 L439.4,283.8 L440.0,283.9 L440.7,283.7 L441.3,284.3 L442.0,285.7 L442.6,285.2 L443.0,284.9 L443.3,284.6 L443.9,284.8 L444.6,283.2 L445.2,285.1 L445.9,284.2 L446.5,285.1 L447.2,284.0 L447.8,283.6 L448.5,284.0 L449.1,283.2 L449.8,284.7 L450.4,283.8 L451.1,283.8 L451.7,283.7 L452.4,283.2 L453.0,284.0 L453.7,283.6 L454.3,284.6 L455.0,283.4 L455.6,283.6 L456.3,282.9 L456.9,282.8 L457.6,282.9 L458.2,284.0 L458.9,283.2 L459.5,283.8 L460.2,282.4 L460.8,282.3 L461.5,281.2 L462.1,283.2 L462.8,284.4 L463.4,282.6 L464.1,283.9 L464.7,284.0 L465.4,282.8 L466.0,284.0 L466.7,282.4 L467.3,282.9 L468.0,284.1 L468.6,283.3 L469.5,282.4 L469.9,283.6 L470.6,281.6 L471.2,282.5 L471.9,282.2 L472.5,282.4 L473.2,281.6 L473.8,281.3 L474.5,284.2 L475.1,281.7 L475.8,281.5 L476.4,280.2 L477.1,282.1 L477.7,283.4 L478.4,283.5 L479.0,284.6 L479.7,283.8 L480.3,282.9 L481.0,282.9 L481.6,283.7 L482.3,282.2 L482.9,282.2 L483.6,281.2 L484.2,282.0 L484.9,283.6 L485.5,281.8 L486.2,282.6 L486.8,280.4 L487.5,283.5 L488.1,282.7 L488.8,283.7 L489.4,282.7 L490.0,281.9 L490.7,281.2 L491.4,282.5 L492.0,281.9 L492.7,281.1 L493.3,281.6 L494.0,280.9 L494.6,282.1 L495.3,281.2 L495.9,280.8 L496.6,281.5 L497.2,281.0 L497.9,282.6 L498.6,280.9 L499.2,279.3 L499.8,279.5 L500.5,278.4 L501.1,277.9 L501.5,277.4 L501.8,277.1 L502.4,274.7 L503.1,274.4 L503.7,273.3 L504.0,272.2 L504.4,272.6 L505.0,275.0 L505.7,277.8 L506.0,278.0 L506.3,278.2 L507.0,281.0 L507.6,283.7 L508.0,285.3 L508.3,285.5 L508.9,286.1 L509.6,284.8 L510.2,286.4 L510.9,286.7 L511.5,287.4 L512.2,286.1 L512.8,285.9 L513.5,285.5 L514.1,287.3 L515.0,287.3 L515.4,286.5 L516.1,287.8 L516.7,288.2 L517.4,288.4 L518.0,287.6 L518.7,288.5 L519.3,288.3 L520.0,287.6 L520.6,288.7 L521.3,288.9 L521.9,288.2 L522.5,289.4 L523.2,290.7 L523.9,287.8 L524.5,289.4 L525.2,289.7 L525.8,289.0 L526.5,288.9 L527.1,288.5 L527.8,289.6 L528.4,288.2 L529.1,288.8 L529.7,287.3 L530.4,289.1 L531.0,289.2 L531.7,287.7 L532.3,286.9 L533.0,286.6 L533.5,284.9 L534.3,280.8 L534.8,277.3 L535.6,282.7 L536.2,286.7 L536.2,286.7 L536.9,286.9 L537.5,289.3 L537.8,290.1 L538.2,290.2 L538.8,290.1 L539.5,290.3 L540.1,290.4 L540.8,289.7 L541.4,292.2 L542.1,292.4 L542.7,291.0 L543.4,292.2 L544.0,290.5 L544.7,290.9 L545.0,291.5 L545.3,291.9 L546.0,290.3 L546.6,290.0 L547.3,291.2 L547.9,289.4 L548.6,292.0 L549.2,291.5 L550.0,291.0 L550.5,291.2 L551.2,290.2 L551.8,290.0 L552.5,291.1 L553.1,291.2 L553.8,290.7 L554.4,290.7 L555.1,290.3 L555.7,291.5 L556.4,289.2 L557.0,289.6 L557.7,289.8 L558.3,289.1 L559.0,289.3 L559.6,289.7 L560.3,291.2 L560.9,291.8 L561.6,290.6 L562.2,289.0 L562.9,289.5 L563.5,289.6 L564.2,289.4 L564.8,289.3 L565.5,290.0 L566.1,288.4 L566.8,289.5 L567.4,290.3 L568.1,290.5 L568.7,290.3 L569.4,290.0 L570.0,289.7 L570.7,289.2 L571.3,289.6 L572.0,289.0 L572.6,288.9 L573.0,289.6 L573.3,290.0 L573.9,289.9 L574.6,288.5 L575.2,288.9 L575.5,288.9 L575.9,288.6 L576.5,287.5 L577.2,286.4 L577.8,286.3 L578.5,284.0 L579.1,285.3 L580.0,288.7 L580.4,289.5 L581.3,291.6 L581.7,290.6 L582.4,291.4 L583.0,291.3 L583.6,291.8 L584.3,287.4 L585.0,285.6 L585.6,289.8 L586.0,292.6 L586.3,295.8 L586.9,303.1 L586.9,303.1 L587.6,305.1 L588.2,306.2 L588.9,309.8 L589.4,310.0 L590.2,310.1 L590.8,310.0 L591.5,310.7 L592.1,311.2 L592.8,311.0 L593.4,311.6 L594.1,313.1 L594.4,312.9 L594.7,312.5 L595.4,312.3 L596.0,312.1 L596.7,312.2 L597.3,312.0 L598.0,312.3 L598.6,311.8 L599.3,311.7 L599.9,311.8 L600.6,311.4 L601.2,312.1 L602.0,312.7 L602.5,311.5 L603.2,311.0 L603.8,312.6 L604.5,312.0 L605.1,313.0 L605.8,312.2 L606.4,312.7 L607.1,311.9 L607.7,311.4 L608.4,312.0 L609.0,312.3 L609.7,311.6 L610.3,311.2 L610.9,311.5 L611.6,311.6 L612.3,311.5 L612.9,311.8 L613.6,313.1 L614.2,311.8 L614.5,311.7 L614.9,311.2 L615.5,310.2 L616.2,310.5 L616.8,308.4 L617.2,309.0 L617.5,309.9 L618.1,309.4 L618.8,308.6 L619.4,309.9 L619.7,310.0 L620.1,309.4 L620.7,309.2 L621.4,306.7 L622.0,306.4 L622.3,305.9 L622.7,306.7 L623.3,309.0 L624.0,309.6 L624.6,312.1 L625.3,315.8 L625.6,316.7 L625.9,316.8 L626.6,316.6 L627.2,318.2 L628.0,318.5 L628.5,318.6 L629.2,318.3 L629.8,319.3 L630.5,318.6 L631.1,319.1 L631.8,318.9 L632.4,318.2 L633.1,318.8 L633.7,319.5 L634.4,318.4 L635.0,319.3 L635.7,319.2 L636.0,319.4 L636.3,319.6 L637.0,319.7 L637.6,319.6 L638.3,319.3 L638.9,319.4 L639.6,319.0 L640.2,319.1 L640.9,319.7 L641.5,319.2 L642.2,319.9 L642.8,319.9 L643.5,319.1 L644.1,319.7 L644.8,318.9 L645.4,319.5 L646.1,319.0 L646.7,319.5 L647.4,319.5 L648.0,318.9 L648.8,320.2 L649.3,319.9 L650.0,318.7 L650.6,319.4 L651.3,319.1 L651.9,320.2 L652.6,319.1 L653.2,319.3 L653.9,319.1 L654.5,319.6 L655.2,319.1 L655.8,318.9 L656.5,319.1 L657.1,319.3 L657.8,319.8 L658.4,319.4 L659.1,319.2 L659.7,319.2 L660.4,318.9 L661.0,319.4 L661.5,318.6 L662.3,318.9 L663.0,319.5 L663.6,318.6 L664.5,318.4 L664.9,318.2 L665.6,317.0 L666.3,316.6 L666.9,318.0 L667.5,318.3 L668.3,320.4 L668.8,320.7 L669.5,321.3 L670.1,322.0 L670.8,323.1 L671.5,323.6 L672.1,322.7 L672.7,321.0 L673.5,318.1 L674.0,315.1 L674.7,312.3 L675.5,307.7 L676.0,311.2 L676.6,316.9 L677.0,320.5 L677.3,321.9 L677.9,325.1 L678.5,328.3"/>
<path stroke="#d2dc3f" d="M124.1,278.2 L124.8,274.0 L125.4,277.3 L126.1,276.5 L126.7,277.5 L127.4,276.7 L128.0,277.8 L128.7,276.3 L129.3,275.7 L130.0,276.8 L130.6,276.6 L131.3,275.7 L131.9,275.6 L132.6,276.5 L133.2,276.3 L134.0,274.9 L134.5,274.6 L135.2,273.1 L135.8,276.0 L136.5,274.2 L137.1,275.5 L137.8,274.4 L138.4,275.8 L139.1,275.6 L139.7,274.9 L140.4,276.0 L141.0,273.7 L141.7,275.4 L142.3,272.9 L143.0,274.4 L143.6,275.0 L144.0,274.4 L144.3,274.0 L144.9,273.2 L145.6,272.4 L146.2,272.8 L146.9,273.8 L147.5,273.6 L148.2,272.5 L148.8,271.3 L149.5,272.7 L150.1,270.9 L150.8,271.7 L151.4,271.5 L152.1,272.5 L152.7,271.8 L153.4,271.9 L154.0,271.8 L154.7,270.9 L155.3,271.7 L156.0,272.3 L156.6,271.0 L157.3,271.5 L157.9,270.4 L158.6,271.3 L159.2,270.8 L159.9,270.9 L160.5,270.3 L161.2,271.2 L161.8,269.0 L162.5,269.0 L163.1,268.6 L163.8,269.6 L164.4,268.1 L165.1,267.7 L165.7,269.0 L166.4,269.4 L167.0,268.7 L167.7,265.7 L168.0,266.5 L168.3,267.3 L169.0,267.3 L169.6,267.1 L170.3,267.4 L170.9,269.3 L171.6,267.0 L172.2,266.1 L172.9,267.3 L173.5,266.2 L174.2,266.4 L174.8,266.0 L175.5,267.0 L176.1,267.6 L176.8,265.7 L177.4,265.7 L177.8,267.3 L178.1,268.4 L178.7,268.4 L179.4,267.0 L180.0,266.5 L180.7,267.3 L181.3,266.0 L182.0,267.4 L182.6,269.4 L183.0,268.8 L183.3,267.8 L183.9,267.5 L184.6,264.7 L185.3,264.0 L185.9,263.7 L186.5,258.8 L187.0,258.4 L187.8,260.9 L188.5,263.6 L188.8,265.3 L189.1,267.1 L189.8,269.0 L190.4,269.8 L191.0,273.8 L191.7,273.4 L192.4,273.3 L193.0,275.8 L193.7,273.6 L194.3,274.7 L195.0,274.0 L195.6,275.0 L196.3,274.8 L197.0,274.7 L197.6,274.4 L198.2,275.4 L198.9,273.8 L199.5,274.1 L200.2,274.0 L200.8,276.1 L201.5,274.5 L202.1,274.0 L202.8,274.4 L203.4,276.9 L204.3,274.7 L204.7,275.3 L205.4,274.7 L206.0,274.2 L206.7,273.5 L207.3,273.8 L208.0,273.7 L208.6,272.3 L209.3,276.2 L209.9,274.6 L210.6,274.0 L211.2,273.8 L212.0,273.3 L212.5,274.2 L213.2,272.7 L213.8,273.1 L214.5,271.2 L215.1,272.5 L215.8,273.5 L216.4,271.4 L216.4,271.4 L217.1,273.0 L217.7,272.7 L218.4,274.2 L219.0,274.9 L219.0,274.9 L219.7,273.9 L220.3,273.1 L221.0,273.5 L221.6,273.3 L222.3,272.8 L222.9,273.4 L223.6,272.9 L224.0,271.9 L224.9,272.7 L225.5,275.8 L226.2,274.1 L226.8,273.6 L227.5,276.1 L228.0,274.2 L228.8,272.4 L229.4,273.0 L230.1,273.2 L230.7,275.1 L231.4,275.8 L232.0,273.3 L232.7,276.2 L233.3,274.3 L234.0,275.7 L234.6,276.2 L235.3,276.2 L235.7,276.1 L236.6,275.7 L237.2,274.7 L237.9,275.6 L238.5,276.2 L239.2,276.1 L239.8,277.5 L240.5,276.0 L241.1,275.8 L241.8,276.5 L242.4,275.4 L243.1,274.0 L243.7,273.3 L244.4,276.2 L245.0,275.7 L245.0,275.7 L245.7,276.4 L246.3,275.4 L247.0,275.9 L247.6,276.9 L248.3,275.5 L248.9,274.1 L249.6,274.6 L250.2,275.8 L250.9,273.4 L251.5,272.1 L252.2,272.3 L252.8,272.9 L253.5,274.8 L254.1,274.2 L254.8,273.4 L255.4,273.1 L256.1,273.8 L256.7,273.9 L257.4,273.8 L258.0,274.3 L258.7,273.4 L259.3,275.7 L259.8,272.7 L260.6,274.4 L261.3,273.4 L261.9,274.9 L262.6,273.9 L263.2,274.7 L263.9,274.9 L264.5,275.1 L265.2,275.8 L265.8,273.9 L266.5,276.0 L267.1,275.3 L267.8,275.8 L268.4,276.6 L269.1,276.0 L269.7,276.9 L270.0,275.3 L270.4,273.3 L271.0,274.6 L271.7,276.1 L272.3,274.5 L273.0,275.5 L273.6,277.1 L274.3,276.4 L274.9,274.6 L275.6,275.8 L276.2,275.9 L276.9,275.3 L277.5,275.1 L278.2,275.4 L279.0,274.5 L279.5,275.4 L280.1,274.2 L280.8,275.2 L281.4,275.3 L282.1,274.1 L282.7,275.4 L283.4,274.9 L284.0,274.2 L284.7,274.8 L285.3,273.8 L286.0,273.4 L286.6,273.7 L287.0,273.5 L287.3,273.4 L287.9,274.4 L288.6,271.3 L289.2,273.0 L289.9,271.2 L290.5,272.4 L291.2,273.0 L291.8,272.5 L292.5,273.4 L293.1,272.6 L293.8,269.5 L294.4,271.1 L295.0,273.2 L295.7,272.9 L296.4,271.6 L297.0,270.2 L297.7,273.5 L298.3,269.6 L299.0,271.7 L299.6,271.3 L300.3,271.9 L300.9,270.6 L301.6,271.0 L302.2,272.5 L302.9,271.2 L303.5,270.5 L304.2,271.9 L305.0,271.7 L305.5,271.5 L306.1,271.0 L306.8,272.1 L307.4,271.1 L308.1,270.0 L308.7,271.3 L309.4,271.0 L310.0,271.6 L310.7,270.1 L311.3,270.8 L312.0,271.9 L312.6,272.3 L313.3,271.8 L313.9,271.7 L314.6,271.9 L315.2,272.0 L316.0,272.8 L316.5,272.0 L317.2,270.9 L317.8,271.5 L318.5,269.1 L319.1,270.7 L319.8,270.2 L320.4,270.4 L321.1,270.6 L321.7,270.3 L322.4,269.0 L323.0,270.1 L323.7,269.9 L324.3,270.6 L325.0,270.9 L325.6,269.9 L326.3,271.8 L326.9,272.2 L327.6,270.5 L328.2,271.4 L328.9,269.3 L329.5,270.2 L330.0,270.9 L330.8,268.5 L331.5,269.6 L332.1,268.9 L332.8,270.7 L333.4,270.6 L334.1,269.1 L334.7,270.1 L335.4,267.6 L336.0,270.7 L336.7,270.4 L337.3,271.0 L338.0,267.5 L338.6,269.7 L339.3,268.5 L339.9,265.7 L340.6,267.5 L341.2,268.1 L341.9,269.0 L342.5,268.1 L343.2,267.3 L343.8,268.4 L343.8,268.4 L344.5,268.0 L345.1,267.4 L345.8,267.0 L346.4,267.9 L347.1,267.9 L347.7,269.4 L348.4,267.1 L349.0,269.0 L349.7,267.5 L350.3,268.2 L351.0,266.1 L351.6,266.1 L352.3,266.6 L352.9,267.6 L353.5,266.9 L354.2,267.2 L354.9,266.7 L355.5,267.1 L356.2,265.8 L356.8,265.0 L357.5,265.5 L358.1,264.8 L358.8,266.5 L359.4,264.6 L360.1,264.6 L360.7,264.4 L361.4,265.6 L362.0,265.4 L362.7,265.0 L363.3,262.7 L364.0,262.1 L364.6,263.9 L365.3,263.8 L365.7,264.3 L366.6,261.6 L367.2,263.1 L367.9,261.4 L368.5,262.0 L369.2,262.8 L369.8,264.0 L370.5,262.4 L371.1,262.2 L371.8,262.4 L372.4,264.0 L373.1,265.1 L373.7,260.8 L374.4,262.1 L375.0,261.6 L375.7,262.9 L376.3,262.2 L376.8,263.1 L377.6,260.9 L378.3,261.9 L378.9,261.5 L379.6,260.9 L380.2,261.8 L380.9,260.5 L381.5,263.9 L382.2,261.8 L382.8,260.3 L383.5,260.3 L384.1,262.7 L384.8,260.1 L385.4,261.2 L386.1,260.6 L386.7,261.2 L387.6,260.3 L388.0,259.8 L388.7,259.4 L389.3,258.2 L390.0,260.1 L390.6,260.5 L391.3,259.8 L391.9,259.8 L392.6,258.5 L393.2,262.2 L393.9,259.3 L394.5,258.5 L395.2,258.5 L395.8,258.8 L396.5,259.6 L397.1,256.0 L397.8,258.8 L398.4,257.8 L399.1,258.2 L399.7,259.5 L400.4,259.4 L401.0,257.9 L401.7,258.6 L402.0,259.6 L402.3,260.6 L403.0,260.2 L403.6,260.1 L404.3,259.9 L404.9,261.0 L405.6,260.8 L406.0,260.2 L406.9,261.4 L407.5,264.6 L408.2,266.0 L408.5,267.0 L408.8,260.8 L409.5,244.8 L409.8,238.5 L410.1,234.8 L410.8,222.0 L411.2,216.4 L412.1,229.8 L412.6,237.4 L413.4,249.2 L414.0,260.6 L414.4,267.2 L414.7,267.2 L415.3,268.2 L416.0,266.6 L416.6,265.9 L417.3,267.2 L417.9,268.8 L418.6,268.8 L419.2,266.3 L420.0,266.8 L420.5,267.2 L421.2,266.0 L421.8,266.2 L422.5,266.2 L423.1,265.4 L423.8,265.7 L424.4,265.9 L425.1,266.2 L425.7,264.7 L426.4,265.9 L427.0,264.7 L427.0,264.7 L427.7,264.7 L428.3,264.2 L429.0,268.7 L429.6,265.7 L430.3,265.8 L431.0,264.9 L431.6,263.4 L432.2,263.0 L432.9,262.2 L433.7,261.6 L434.2,262.5 L434.8,264.4 L435.5,261.2 L436.0,264.3 L436.8,266.3 L437.4,266.3 L438.1,267.2 L438.7,269.1 L439.0,268.7 L439.4,267.9 L440.0,269.0 L440.7,266.8 L441.3,267.2 L442.0,265.8 L442.6,264.9 L443.3,266.4 L443.9,267.0 L444.6,266.8 L445.2,266.2 L445.9,267.9 L446.5,267.2 L447.0,267.0 L447.8,266.4 L448.5,268.7 L449.1,268.6 L449.8,267.7 L450.4,267.3 L451.1,267.5 L451.7,268.8 L452.4,269.8 L453.0,266.9 L453.7,266.0 L454.3,264.3 L455.0,268.9 L455.6,265.3 L456.0,266.3 L456.3,266.8 L456.9,266.2 L457.6,267.0 L458.2,264.9 L458.9,264.1 L459.5,265.3 L460.2,265.4 L460.8,266.4 L461.5,263.4 L462.1,264.5 L462.8,264.3 L463.4,263.3 L464.1,264.3 L464.7,265.1 L465.0,264.6 L465.4,264.0 L466.0,262.3 L466.7,263.8 L467.3,264.4 L468.0,263.8 L468.6,263.9 L469.3,261.5 L469.9,263.4 L470.6,263.6 L471.2,262.8 L472.0,262.6 L472.5,261.5 L473.2,263.1 L473.8,261.0 L474.5,260.1 L475.1,260.9 L475.5,260.3 L475.8,259.9 L476.4,260.0 L477.1,258.1 L477.7,257.8 L478.0,258.0 L478.4,259.1 L479.0,261.8 L479.7,260.9 L480.5,261.0 L481.0,262.5 L481.6,262.6 L482.3,262.4 L482.7,264.0 L483.6,264.5 L484.2,265.6 L484.9,266.2 L485.5,266.5 L486.2,266.0 L486.8,264.8 L487.5,265.0 L488.1,264.9 L488.8,266.1 L489.4,264.0 L490.0,263.8 L490.7,265.8 L491.4,264.7 L492.0,263.6 L492.7,264.3 L493.3,264.2 L494.0,264.2 L494.6,264.7 L495.3,263.9 L495.9,263.4 L496.6,263.1 L497.2,261.9 L497.9,262.9 L498.6,264.2 L499.2,262.5 L499.8,260.5 L500.5,259.3 L501.0,257.8 L501.8,255.8 L502.4,255.3 L502.8,253.6 L503.1,252.7 L503.7,249.9 L504.4,247.4 L505.0,249.2 L505.7,250.6 L506.0,252.9 L506.3,255.7 L507.0,260.3 L507.5,265.5 L508.3,269.2 L509.0,272.6 L509.6,273.9 L510.2,276.7 L510.9,273.7 L511.5,275.9 L512.2,275.7 L512.8,275.3 L513.5,275.3 L514.1,276.2 L514.5,276.6 L514.8,276.6 L515.4,276.7 L516.1,276.4 L516.7,276.5 L517.4,275.7 L518.0,276.2 L518.7,275.5 L519.3,274.7 L520.0,276.5 L520.6,275.1 L521.3,274.4 L521.9,275.5 L522.6,273.7 L523.0,274.7 L523.9,275.6 L524.5,274.6 L525.2,275.1 L525.8,276.8 L526.5,275.8 L527.1,275.4 L527.8,275.0 L528.4,274.0 L529.1,274.4 L529.7,274.2 L530.4,274.1 L531.0,274.2 L531.7,273.5 L532.3,272.9 L533.0,267.5 L533.5,265.9 L534.3,262.4 L534.9,257.7 L535.2,255.7 L535.6,258.2 L536.2,264.3 L536.5,267.5 L536.9,270.7 L537.5,273.5 L537.8,275.1 L538.2,274.9 L538.8,275.6 L539.5,274.7 L540.1,273.4 L540.8,275.2 L541.4,276.2 L542.1,276.5 L542.6,275.7 L543.4,273.8 L544.0,276.0 L544.7,274.6 L545.3,275.2 L546.0,275.2 L546.6,274.1 L547.3,273.3 L547.9,272.7 L548.6,272.6 L549.2,272.7 L550.0,272.1 L550.5,272.6 L551.2,270.6 L551.8,271.6 L552.5,272.6 L553.1,271.7 L553.8,271.6 L554.4,270.9 L555.1,272.4 L555.7,273.2 L556.4,270.6 L557.0,272.5 L557.7,270.2 L558.3,271.8 L559.0,269.8 L559.6,272.1 L560.3,271.6 L560.9,271.7 L561.6,272.5 L562.2,272.0 L562.9,271.2 L563.5,270.7 L564.2,271.5 L564.8,270.8 L565.5,271.1 L566.1,272.9 L566.8,272.2 L567.4,271.9 L568.1,272.1 L568.7,270.0 L569.4,271.4 L570.0,269.6 L570.7,270.5 L571.3,271.6 L572.0,271.2 L572.6,271.4 L573.0,270.8 L573.3,269.7 L573.9,267.5 L574.6,265.6 L575.2,265.0 L575.5,263.9 L575.9,262.4 L576.5,257.1 L577.2,256.3 L577.8,256.6 L578.5,253.8 L579.1,255.8 L580.0,257.4 L580.4,258.1 L581.3,261.7 L581.7,261.0 L582.4,260.8 L583.0,259.1 L583.6,259.1 L584.3,255.1 L584.8,251.3 L585.8,246.8 L586.3,253.9 L586.6,261.5 L586.9,274.0 L587.4,293.4 L588.2,299.1 L588.9,304.4 L589.4,307.9 L590.2,308.4 L590.8,309.3 L591.5,309.2 L592.1,310.4 L592.5,311.1 L592.8,311.4 L593.4,310.3 L594.1,311.8 L594.7,311.3 L595.4,311.6 L596.0,311.8 L596.0,311.8 L596.7,311.9 L597.3,312.3 L598.0,311.4 L598.6,312.4 L599.3,311.6 L599.9,311.9 L600.6,312.3 L601.2,311.5 L602.0,311.6 L602.5,312.2 L603.2,312.4 L603.8,312.4 L604.5,311.8 L605.1,312.8 L605.8,311.7 L606.4,311.5 L607.1,312.2 L607.7,312.4 L608.4,311.2 L609.0,312.2 L609.7,311.2 L610.3,311.9 L610.9,313.1 L611.6,312.7 L612.3,312.4 L612.9,312.2 L613.6,311.1 L614.2,311.5 L614.9,311.4 L615.5,310.4 L616.2,310.9 L616.8,310.9 L617.5,310.7 L618.0,310.9 L618.8,310.4 L619.4,310.0 L620.1,310.5 L620.7,309.3 L621.4,309.7 L622.0,310.4 L622.7,310.7 L623.5,309.5 L624.0,308.9 L624.6,311.5 L625.3,311.9 L625.9,312.3 L626.6,313.6 L627.2,313.7 L627.9,312.8 L628.5,313.1 L629.2,314.5 L630.0,313.5 L630.5,314.4 L631.1,314.1 L631.8,314.3 L632.4,314.7 L633.1,314.4 L633.7,314.3 L634.4,313.9 L635.0,313.8 L635.7,314.1 L636.2,313.7 L637.0,313.1 L637.6,313.5 L638.3,312.9 L638.9,313.4 L639.6,314.7 L640.2,313.8 L640.9,313.3 L641.5,313.1 L642.2,312.4 L642.8,313.0 L643.5,312.7 L644.1,313.0 L645.0,313.0 L645.4,312.9 L646.1,311.5 L646.7,313.0 L647.4,312.3 L648.0,312.0 L648.7,311.6 L649.3,311.8 L650.0,312.3 L650.6,312.0 L651.0,311.3 L651.3,311.1 L651.9,311.2 L652.6,310.9 L653.2,312.3 L653.9,312.8 L654.5,313.1 L655.2,312.7 L656.0,313.0 L656.5,312.5 L657.1,313.4 L657.8,313.2 L658.4,313.2 L659.1,312.9 L659.7,314.5 L659.7,314.5 L660.4,312.0 L661.0,312.7 L661.7,311.2 L662.0,311.2 L662.3,311.2 L663.0,309.6 L663.6,309.5 L664.5,307.7 L664.9,306.2 L665.6,304.6 L666.3,301.8 L666.9,306.1 L667.3,308.8 L668.3,313.9 L668.8,314.9 L669.5,316.5 L670.0,316.6 L670.8,318.5 L671.6,319.6 L672.1,317.0 L672.8,313.2 L673.6,305.6 L674.0,300.7 L674.8,290.2 L675.3,285.7 L675.9,281.8 L676.6,300.4 L676.6,300.4 L677.4,326.2 L677.9,326.6 L678.5,327.7"/>
<path stroke="#f04e23" d="M124.1,148.4 L124.8,144.3 L125.4,142.3 L126.1,139.4 L126.7,144.3 L127.4,148.1 L128.0,144.7 L128.7,146.0 L129.3,147.2 L130.0,143.0 L130.6,149.6 L131.3,141.7 L131.9,143.4 L132.6,147.7 L133.2,141.2 L134.0,140.5 L134.5,139.1 L135.2,140.8 L135.8,135.7 L136.5,139.3 L137.1,144.9 L137.8,141.2 L138.4,139.9 L139.1,141.3 L139.7,141.5 L140.4,140.3 L141.0,140.1 L141.7,134.3 L142.3,138.9 L143.0,136.3 L143.6,139.1 L144.0,137.5 L144.3,136.5 L144.9,133.3 L145.6,135.6 L146.2,132.9 L146.9,137.3 L147.5,134.2 L148.2,135.6 L148.8,130.9 L149.5,136.6 L150.1,130.9 L150.8,134.3 L151.4,131.3 L152.0,126.4 L152.7,128.3 L153.4,125.6 L154.0,127.4 L154.7,129.3 L155.3,126.4 L156.0,127.7 L156.6,121.9 L157.3,124.7 L157.9,124.3 L158.6,125.1 L159.2,120.7 L159.9,123.2 L160.5,122.4 L161.0,118.6 L161.8,118.6 L162.5,121.7 L163.1,118.2 L163.8,117.3 L164.4,121.9 L165.1,120.1 L165.7,117.9 L166.4,118.0 L167.0,116.5 L167.7,115.3 L168.3,115.3 L169.0,117.4 L169.6,119.4 L170.3,115.1 L170.6,114.9 L170.9,115.0 L171.6,114.3 L172.2,111.9 L172.9,115.7 L173.5,117.3 L174.2,112.7 L174.8,116.4 L175.5,114.1 L176.1,118.2 L177.0,115.6 L177.4,112.5 L178.1,109.0 L178.7,113.0 L179.4,110.2 L180.0,110.1 L180.7,113.2 L181.3,116.9 L182.0,114.5 L182.6,113.5 L183.5,111.4 L183.9,112.6 L184.6,107.9 L185.2,110.9 L185.5,108.9 L185.9,106.5 L186.5,104.8 L187.2,102.8 L187.5,101.0 L187.8,101.9 L188.5,106.9 L189.1,108.9 L189.5,108.7 L189.8,108.3 L190.4,111.1 L191.1,114.5 L191.8,118.1 L192.4,115.3 L193.0,118.6 L193.7,112.6 L194.3,113.7 L195.0,110.4 L195.6,115.8 L196.0,112.5 L196.3,110.6 L196.9,110.9 L197.6,115.1 L198.2,111.9 L198.9,111.0 L199.5,115.4 L200.2,112.7 L200.8,115.5 L201.5,112.1 L202.0,114.2 L202.8,115.6 L203.4,113.1 L204.1,117.0 L204.7,111.6 L205.4,112.5 L206.0,113.3 L206.7,115.2 L207.3,112.2 L208.0,112.9 L208.6,115.9 L209.3,118.9 L209.9,115.6 L210.6,114.2 L211.2,118.7 L211.9,121.9 L212.5,119.5 L212.5,119.5 L213.2,115.2 L214.0,104.6 L214.5,103.9 L215.1,98.9 L215.4,96.6 L215.8,100.6 L216.4,106.2 L217.0,112.9 L217.7,114.6 L218.4,123.8 L219.0,124.1 L219.3,127.9 L219.7,128.4 L220.3,131.5 L221.0,129.0 L221.6,117.8 L222.3,118.2 L222.7,112.4 L223.6,106.5 L224.1,105.2 L224.9,115.2 L225.5,126.5 L225.5,126.5 L226.2,130.7 L227.0,147.7 L227.5,152.8 L228.2,158.3 L228.8,160.9 L229.4,159.5 L230.0,153.0 L230.7,152.3 L231.4,147.8 L232.0,145.8 L232.3,143.6 L232.7,146.7 L233.5,159.2 L234.0,165.6 L234.6,183.5 L235.2,194.1 L236.1,208.2 L236.6,204.3 L237.2,206.6 L237.9,204.9 L238.5,206.7 L239.2,207.5 L240.0,205.0 L240.5,204.2 L241.1,203.8 L241.8,206.8 L242.4,208.1 L243.1,207.8 L243.7,205.5 L244.4,204.0 L245.0,204.5 L245.3,203.5 L245.7,202.4 L246.3,202.6 L247.0,207.2 L247.6,205.2 L248.3,206.5 L248.9,205.8 L249.6,209.0 L250.2,209.2 L250.9,205.9 L251.5,206.4 L252.0,206.2 L252.8,209.1 L253.5,208.6 L254.1,205.6 L254.8,209.4 L255.4,205.8 L256.1,203.6 L256.7,202.0 L257.3,204.7 L258.0,204.4 L258.7,201.8 L259.3,201.8 L259.3,201.8 L260.0,201.2 L260.6,197.0 L261.0,196.6 L261.3,198.4 L261.9,202.8 L262.8,204.9 L263.2,207.0 L263.9,213.5 L264.6,219.1 L265.2,224.6 L265.8,225.9 L266.5,229.1 L267.1,235.7 L267.8,239.9 L268.2,242.4 L269.1,246.9 L269.7,249.4 L270.4,252.8 L271.0,253.1 L271.0,253.1 L271.7,255.5 L272.3,258.4 L273.0,259.9 L273.6,263.7 L274.0,264.4 L274.3,264.6 L274.9,265.3 L275.6,268.0 L276.2,268.2 L276.5,269.0 L276.9,269.5 L277.5,270.0 L278.2,269.9 L278.7,270.7 L279.5,270.6 L280.1,269.7 L280.8,270.4 L281.4,271.5 L282.1,270.7 L282.7,269.2 L283.4,272.1 L284.0,269.1 L284.7,270.4 L285.0,270.3 L285.3,270.2 L286.0,270.3 L286.6,268.4 L287.3,269.0 L287.9,268.6 L288.6,269.5 L289.2,268.6 L289.9,268.7 L290.5,269.0 L291.2,270.2 L291.8,268.9 L292.5,269.3 L293.1,267.6 L293.8,269.0 L294.4,267.0 L295.0,268.6 L295.7,268.1 L296.4,267.3 L297.0,267.0 L297.7,267.9 L298.3,268.4 L299.0,267.9 L299.6,268.3 L300.3,268.2 L300.9,268.2 L301.6,268.5 L302.2,268.9 L302.9,269.5 L303.5,269.1 L304.2,268.0 L305.0,270.0 L305.5,269.7 L306.1,268.6 L306.8,270.0 L307.4,268.7 L308.1,268.4 L308.7,268.5 L309.4,270.6 L310.0,269.1 L310.7,269.5 L311.3,269.3 L312.0,269.1 L312.6,269.9 L312.6,269.9 L313.3,269.7 L313.9,270.2 L314.5,267.1 L315.2,268.0 L316.0,265.3 L316.5,264.9 L317.2,269.6 L317.5,270.9 L317.8,272.0 L318.5,273.8 L319.1,275.6 L319.6,277.3 L320.4,276.9 L321.1,279.9 L321.7,280.4 L322.4,280.4 L323.0,282.3 L323.0,282.3 L323.7,281.8 L324.3,284.4 L325.0,281.6 L325.6,282.2 L326.3,281.8 L326.9,283.7 L327.8,284.2 L328.2,284.2 L328.9,283.8 L329.5,285.3 L330.2,284.8 L330.8,285.4 L331.5,284.3 L332.1,282.8 L332.8,284.0 L333.4,283.4 L334.1,284.6 L334.7,283.7 L335.4,283.9 L336.0,284.2 L336.7,283.4 L337.3,284.6 L338.0,285.5 L338.6,284.6 L339.3,284.9 L340.0,285.2 L340.6,284.7 L341.2,284.6 L341.9,285.1 L342.5,284.6 L343.2,285.0 L343.8,284.5 L344.5,283.7 L345.1,283.4 L345.8,286.2 L346.4,285.6 L347.1,284.5 L347.7,285.5 L348.4,285.7 L349.0,285.9 L349.7,284.8 L350.3,284.0 L351.0,284.4 L351.6,285.2 L352.3,286.3 L352.9,286.6 L353.5,285.2 L354.2,285.0 L354.9,286.0 L355.5,286.5 L356.2,284.0 L356.8,285.1 L357.5,284.6 L358.1,284.3 L358.8,284.4 L359.4,284.4 L360.1,284.7 L360.7,283.4 L361.4,284.5 L362.0,285.0 L362.7,284.8 L363.3,284.5 L364.0,284.0 L364.6,283.7 L365.3,285.0 L365.9,283.5 L366.6,283.8 L367.2,284.7 L367.9,283.8 L368.5,282.9 L369.2,283.4 L369.8,283.6 L370.5,283.7 L371.1,283.6 L371.8,284.7 L372.4,284.5 L373.1,284.3 L373.7,283.5 L374.4,284.5 L375.0,284.4 L375.7,285.2 L376.3,283.1 L376.8,283.3 L377.6,284.5 L378.3,282.4 L378.9,283.3 L379.6,283.3 L380.2,283.0 L380.9,282.0 L381.5,282.7 L382.2,281.4 L382.8,283.7 L383.5,282.5 L384.1,282.8 L384.8,282.5 L385.4,282.6 L386.1,282.6 L386.7,282.7 L387.4,282.0 L388.0,282.2 L388.7,281.5 L389.3,281.6 L390.0,281.9 L390.6,281.7 L391.3,281.4 L391.9,282.1 L392.6,283.1 L393.2,282.7 L393.9,282.0 L394.5,282.6 L395.2,282.5 L395.5,283.6 L395.8,284.5 L396.5,280.9 L397.1,282.4 L397.8,281.2 L398.4,283.3 L399.1,282.0 L399.7,282.8 L400.4,282.7 L401.0,283.2 L401.7,280.5 L402.3,282.0 L403.0,283.2 L403.6,282.9 L404.3,284.9 L404.9,285.9 L405.5,284.7 L406.2,286.8 L406.9,289.0 L407.7,291.4 L408.2,285.4 L408.8,277.0 L409.3,269.7 L410.1,255.4 L410.6,246.5 L411.3,240.7 L412.0,246.5 L412.7,262.7 L413.2,274.9 L414.2,294.7 L414.7,293.6 L415.3,295.2 L416.0,294.0 L416.6,294.4 L417.0,294.1 L417.3,293.9 L417.9,294.4 L418.6,296.0 L419.2,295.2 L419.9,293.9 L420.5,296.4 L421.2,295.1 L421.8,295.5 L421.8,295.5 L422.5,295.7 L423.1,294.4 L423.8,296.5 L424.4,296.1 L425.1,294.8 L425.7,295.0 L426.4,294.3 L427.0,293.9 L427.7,294.1 L428.3,293.4 L429.0,294.0 L429.6,293.8 L430.0,294.7 L430.3,295.3 L430.9,293.0 L431.6,294.7 L432.2,294.2 L432.9,293.6 L433.5,293.1 L434.2,294.8 L434.8,294.6 L435.5,293.4 L436.1,293.0 L436.8,293.2 L437.4,294.3 L438.1,292.3 L438.7,292.8 L439.4,293.4 L440.0,291.7 L440.7,292.8 L441.3,293.6 L442.0,292.2 L442.6,292.3 L443.0,291.7 L443.3,291.3 L443.9,292.8 L444.6,291.6 L445.2,292.2 L445.9,292.5 L446.5,292.0 L447.2,293.0 L447.8,293.1 L448.5,292.9 L449.1,293.1 L449.8,292.5 L450.4,291.2 L451.1,293.3 L451.7,293.1 L452.4,291.9 L453.0,291.4 L453.7,292.8 L454.3,291.3 L455.0,291.3 L455.6,291.2 L456.3,293.2 L456.9,291.1 L457.6,289.6 L458.2,291.5 L458.9,290.8 L459.5,290.4 L460.2,291.6 L460.8,291.0 L461.5,292.0 L462.1,291.1 L462.8,292.0 L463.4,291.8 L464.1,291.1 L464.7,291.5 L465.4,292.3 L466.0,291.7 L466.7,290.3 L467.3,291.4 L468.0,291.3 L468.6,292.1 L469.5,291.5 L469.9,292.0 L470.6,290.8 L471.2,290.7 L471.9,290.5 L472.5,290.6 L473.2,290.4 L473.8,290.7 L474.5,289.7 L475.1,289.7 L475.8,290.6 L476.4,290.8 L477.1,290.4 L477.7,290.8 L478.4,290.8 L479.0,291.7 L479.7,289.3 L480.3,291.5 L481.0,288.6 L481.6,289.1 L482.3,290.6 L482.9,289.6 L483.6,290.1 L484.2,289.9 L484.9,289.3 L485.5,289.0 L486.2,289.5 L486.8,289.8 L487.5,290.0 L488.1,289.5 L488.8,289.4 L489.4,290.6 L490.1,288.0 L490.7,289.8 L491.4,290.7 L492.0,291.0 L492.7,290.7 L493.3,290.7 L494.0,290.3 L494.6,289.6 L495.3,287.8 L496.0,288.9 L496.6,288.8 L497.2,290.1 L497.9,288.5 L498.5,288.4 L499.2,289.1 L499.8,287.7 L500.5,288.4 L501.1,288.7 L501.8,287.9 L502.4,288.1 L503.1,286.9 L503.7,287.2 L504.4,288.0 L505.0,289.0 L505.7,287.5 L506.3,287.2 L507.0,287.1 L507.6,288.2 L508.3,286.5 L508.9,287.7 L509.6,287.1 L510.2,287.3 L510.9,286.7 L511.5,287.3 L512.2,287.9 L512.8,286.5 L513.5,286.1 L514.1,284.6 L514.8,287.0 L515.4,286.0 L516.1,286.8 L516.7,286.8 L517.0,286.5 L517.4,286.2 L518.0,286.4 L518.7,285.7 L519.3,288.1 L520.0,287.2 L520.6,286.9 L521.3,286.9 L521.9,287.0 L522.6,286.3 L523.2,286.3 L523.9,287.6 L524.5,284.4 L525.2,286.0 L525.8,285.4 L526.5,285.8 L527.1,283.7 L527.7,284.6 L528.4,286.0 L529.1,284.6 L529.7,286.2 L530.4,285.1 L531.0,285.6 L531.7,284.9 L532.3,282.7 L533.0,278.7 L533.3,277.7 L533.6,276.3 L534.3,269.5 L534.6,268.3 L534.9,271.4 L535.6,275.2 L535.9,277.9 L536.2,280.2 L536.9,285.7 L537.3,287.8 L538.2,287.4 L538.8,288.2 L539.5,288.7 L540.1,288.2 L540.8,290.0 L541.4,289.3 L542.1,289.4 L542.6,289.5 L543.4,289.7 L544.0,290.2 L544.7,290.4 L545.3,289.5 L546.0,288.6 L546.6,288.6 L547.3,286.9 L547.9,289.1 L548.6,288.7 L549.2,287.5 L550.0,287.6 L550.5,286.7 L551.2,288.9 L551.8,287.5 L552.5,287.2 L553.1,289.1 L553.8,286.9 L554.4,288.0 L555.1,287.3 L555.7,287.5 L556.4,287.8 L557.0,287.9 L557.7,289.6 L558.3,289.2 L559.0,288.0 L559.6,290.1 L560.3,288.2 L560.9,288.2 L561.6,288.4 L562.2,287.3 L562.9,289.2 L563.5,287.5 L564.2,287.3 L564.8,289.1 L565.5,287.7 L566.1,287.6 L566.8,286.5 L567.4,286.8 L567.4,286.8 L568.1,287.7 L568.7,286.3 L569.3,288.5 L570.0,287.8 L570.7,289.4 L571.3,289.9 L572.0,288.7 L572.6,288.9 L573.3,289.2 L573.9,289.3 L574.2,288.7 L574.6,289.1 L575.2,291.7 L575.9,294.4 L576.7,297.1 L577.2,297.6 L577.8,298.4 L578.5,298.1 L579.1,299.2 L579.8,300.1 L580.5,299.6 L581.1,299.7 L581.7,299.4 L582.4,299.3 L583.0,299.1 L583.7,298.6 L584.3,299.5 L585.0,299.9 L585.6,299.1 L586.3,299.2 L586.9,298.1 L587.6,298.6 L588.2,299.1 L588.9,298.9 L589.5,298.9 L590.0,298.4 L590.8,297.8 L591.5,298.2 L592.1,299.1 L592.8,297.5 L593.4,296.7 L594.1,297.1 L594.7,297.2 L595.4,298.1 L596.0,298.0 L596.0,298.0 L596.7,296.6 L597.3,296.5 L598.0,296.7 L598.6,296.8 L599.3,296.0 L600.0,296.9 L600.6,295.8 L601.2,295.9 L601.9,295.2 L602.5,295.2 L602.9,294.7 L603.2,294.7 L603.8,295.6 L604.5,296.8 L605.1,296.8 L606.0,297.8 L606.4,296.9 L607.1,298.4 L607.7,298.3 L608.4,298.6 L609.0,299.7 L609.5,301.0 L610.3,300.7 L611.0,301.7 L611.6,300.2 L612.5,301.8 L612.9,300.0 L613.6,299.1 L614.3,297.4 L614.9,293.7 L615.6,290.5 L616.2,287.4 L616.8,285.6 L617.2,284.0 L617.5,284.8 L618.1,287.7 L618.8,289.8 L619.3,290.4 L620.1,289.2 L620.7,287.4 L621.4,287.5 L622.0,282.2 L622.3,282.2 L622.7,285.5 L623.3,290.2 L623.6,292.4 L624.0,296.8 L624.8,306.3 L625.3,310.2 L625.9,317.1 L626.6,323.5 L627.2,324.1 L627.9,324.6 L628.5,325.1 L629.2,326.2 L629.9,325.6 L630.5,325.8 L631.1,326.5 L631.8,326.3 L632.4,326.4 L633.1,326.0 L633.7,326.3 L634.4,326.1 L635.0,325.8 L635.7,325.8 L636.3,326.0 L637.0,326.0 L637.6,325.8 L638.3,326.6 L638.9,326.0 L639.6,325.7 L640.0,325.5 L640.9,325.8 L641.5,325.1 L642.2,325.4 L642.8,325.3 L643.5,325.3 L644.1,325.6 L644.8,324.2 L645.4,325.9 L646.1,325.5 L646.7,325.1 L647.4,325.0 L648.0,325.4 L648.8,325.3 L649.3,325.7 L650.0,324.8 L650.6,324.4 L651.0,324.1 L651.3,324.0 L651.9,324.7 L652.6,325.4 L653.2,324.7 L653.9,325.7 L654.5,325.8 L655.0,325.5 L655.8,326.2 L656.5,325.1 L657.1,325.0 L657.8,326.0 L658.4,326.1 L659.1,326.3 L659.7,326.3 L660.4,325.9 L661.0,326.6 L661.5,326.4 L662.3,326.4 L663.0,326.0 L663.6,325.2 L664.3,325.6 L664.9,325.5 L665.5,325.4 L666.2,324.0 L666.9,323.0 L667.5,322.9 L668.2,321.8 L668.8,320.8 L669.2,320.5 L669.5,321.3 L670.1,322.9 L671.0,324.6 L671.4,325.2 L672.1,327.0 L672.7,327.2 L673.0,327.9 L673.4,328.0 L674.0,327.8 L674.7,326.7 L675.5,326.8 L676.0,327.4 L676.6,327.5 L677.0,327.6 L677.3,327.3 L677.9,327.9 L678.5,327.5"/>
</g>
<g stroke="#000" stroke-width="2.1" fill="none" stroke-linecap="square">
<rect x="123.6" y="11.8" width="556.0" height="319.5"/>
<line x1="117.1" y1="331.3" x2="123.6" y2="331.3"/>
<line x1="120.8" y1="308.5" x2="123.6" y2="308.5"/>
<line x1="117.1" y1="285.7" x2="123.6" y2="285.7"/>
<line x1="120.8" y1="262.8" x2="123.6" y2="262.8"/>
<line x1="117.1" y1="240.0" x2="123.6" y2="240.0"/>
<line x1="120.8" y1="217.2" x2="123.6" y2="217.2"/>
<line x1="117.1" y1="194.4" x2="123.6" y2="194.4"/>
<line x1="120.8" y1="171.6" x2="123.6" y2="171.6"/>
<line x1="117.1" y1="148.7" x2="123.6" y2="148.7"/>
<line x1="120.8" y1="125.9" x2="123.6" y2="125.9"/>
<line x1="117.1" y1="103.1" x2="123.6" y2="103.1"/>
<line x1="120.8" y1="80.3" x2="123.6" y2="80.3"/>
<line x1="117.1" y1="57.5" x2="123.6" y2="57.5"/>
<line x1="120.8" y1="34.6" x2="123.6" y2="34.6"/>
<line x1="117.1" y1="11.8" x2="123.6" y2="11.8"/>
<line x1="679.6" y1="331.3" x2="679.6" y2="337.8"/>
<line x1="629.0" y1="331.3" x2="629.0" y2="334.1"/>
<line x1="578.4" y1="331.3" x2="578.4" y2="337.8"/>
<line x1="527.8" y1="331.3" x2="527.8" y2="334.1"/>
<line x1="477.2" y1="331.3" x2="477.2" y2="337.8"/>
<line x1="426.6" y1="331.3" x2="426.6" y2="334.1"/>
<line x1="376.0" y1="331.3" x2="376.0" y2="337.8"/>
<line x1="325.4" y1="331.3" x2="325.4" y2="334.1"/>
<line x1="274.8" y1="331.3" x2="274.8" y2="337.8"/>
<line x1="224.2" y1="331.3" x2="224.2" y2="334.1"/>
<line x1="173.6" y1="331.3" x2="173.6" y2="337.8"/>
<line x1="123.0" y1="331.3" x2="123.0" y2="334.1"/>
</g>
<g font-family="Liberation Sans, Arial, sans-serif" fill="#000" stroke="#000" stroke-linejoin="round">
<text transform="translate(81.00,338.00) scale(1,1.05)" font-size="20.4" text-anchor="start" stroke-width="0.4" textLength="29.5" lengthAdjust="spacingAndGlyphs">0.0</text>
<text transform="translate(0.00,293.06) scale(1,1.05)" font-size="20.4" text-anchor="start" stroke-width="0.4" ><tspan x="38.3" textLength="30.2" lengthAdjust="spacingAndGlyphs">2.0</tspan><tspan x="68.4" dy="0.3" font-size="18.3" stroke-width="1">×</tspan><tspan x="80.4" dy="-0.3">10</tspan><tspan font-size="13.5" dy="-7.2">4</tspan></text>
<text transform="translate(0.00,247.42) scale(1,1.05)" font-size="20.4" text-anchor="start" stroke-width="0.4" ><tspan x="38.3" textLength="30.2" lengthAdjust="spacingAndGlyphs">4.0</tspan><tspan x="68.4" dy="0.3" font-size="18.3" stroke-width="1">×</tspan><tspan x="80.4" dy="-0.3">10</tspan><tspan font-size="13.5" dy="-7.2">4</tspan></text>
<text transform="translate(0.00,201.78) scale(1,1.05)" font-size="20.4" text-anchor="start" stroke-width="0.4" ><tspan x="38.3" textLength="30.2" lengthAdjust="spacingAndGlyphs">6.0</tspan><tspan x="68.4" dy="0.3" font-size="18.3" stroke-width="1">×</tspan><tspan x="80.4" dy="-0.3">10</tspan><tspan font-size="13.5" dy="-7.2">4</tspan></text>
<text transform="translate(0.00,156.14) scale(1,1.05)" font-size="20.4" text-anchor="start" stroke-width="0.4" ><tspan x="38.3" textLength="30.2" lengthAdjust="spacingAndGlyphs">8.0</tspan><tspan x="68.4" dy="0.3" font-size="18.3" stroke-width="1">×</tspan><tspan x="80.4" dy="-0.3">10</tspan><tspan font-size="13.5" dy="-7.2">4</tspan></text>
<text transform="translate(0.00,110.50) scale(1,1.05)" font-size="20.4" text-anchor="start" stroke-width="0.4" ><tspan x="38.3" textLength="30.2" lengthAdjust="spacingAndGlyphs">1.0</tspan><tspan x="68.4" dy="0.3" font-size="18.3" stroke-width="1">×</tspan><tspan x="80.4" dy="-0.3">10</tspan><tspan font-size="13.5" dy="-7.2">5</tspan></text>
<text transform="translate(0.00,64.86) scale(1,1.05)" font-size="20.4" text-anchor="start" stroke-width="0.4" ><tspan x="38.3" textLength="30.2" lengthAdjust="spacingAndGlyphs">1.2</tspan><tspan x="68.4" dy="0.3" font-size="18.3" stroke-width="1">×</tspan><tspan x="80.4" dy="-0.3">10</tspan><tspan font-size="13.5" dy="-7.2">5</tspan></text>
<text transform="translate(0.00,19.22) scale(1,1.05)" font-size="20.4" text-anchor="start" stroke-width="0.4" ><tspan x="38.3" textLength="30.2" lengthAdjust="spacingAndGlyphs">1.4</tspan><tspan x="68.4" dy="0.3" font-size="18.3" stroke-width="1">×</tspan><tspan x="80.4" dy="-0.3">10</tspan><tspan font-size="13.5" dy="-7.2">5</tspan></text>
<text transform="translate(679.60,361.20) scale(1,1.08)" font-size="20.7" text-anchor="middle" stroke-width="0.4" >0</text>
<text transform="translate(578.40,361.20) scale(1,1.08)" font-size="20.7" text-anchor="middle" stroke-width="0.4" >200</text>
<text transform="translate(477.20,361.20) scale(1,1.08)" font-size="20.7" text-anchor="middle" stroke-width="0.4" >400</text>
<text transform="translate(376.00,361.20) scale(1,1.08)" font-size="20.7" text-anchor="middle" stroke-width="0.4" >600</text>
<text transform="translate(274.80,361.20) scale(1,1.08)" font-size="20.7" text-anchor="middle" stroke-width="0.4" >800</text>
<text transform="translate(173.60,361.20) scale(1,1.08)" font-size="20.7" text-anchor="middle" stroke-width="0.4" >1000</text>
<text transform="translate(255.40,406.70) scale(1,1.05)" font-size="34.3" text-anchor="start" stroke-width="0.55" >Binding Energy, eV</text>
<text transform="translate(25.80,297.90) rotate(-90) scale(1,1.05)" font-size="34.3" text-anchor="start" stroke-width="0.55" >Intensity, Counts</text>
<text transform="translate(192.70,90.70) rotate(-90) scale(1,0.95)" font-size="16.6" text-anchor="start" stroke-width="0.3" >- O KLL</text>
<text transform="translate(228.20,96.10) rotate(-90) scale(1,0.95)" font-size="16.6" text-anchor="start" stroke-width="0.3" >- Ce 3d3</text>
<text transform="translate(239.90,139.10) rotate(-90) scale(1,0.95)" font-size="16.6" text-anchor="start" stroke-width="0.3" >- Ce 3d5</text>
<text transform="translate(266.60,193.10) rotate(-90) scale(1,0.95)" font-size="16.6" text-anchor="start" stroke-width="0.3" >- Ce MNN</text>
<text transform="translate(416.70,211.60) rotate(-90) scale(1,0.95)" font-size="16.6" text-anchor="start" stroke-width="0.3" >- O 1s</text>
<text transform="translate(439.00,252.60) rotate(-90) scale(1,0.95)" font-size="16.6" text-anchor="start" stroke-width="0.3" >- Yb 4s</text>
<text transform="translate(484.50,250.60) rotate(-90) scale(1,0.95)" font-size="16.6" text-anchor="start" stroke-width="0.3" >- Yb 4p1</text>
<text transform="translate(510.20,244.90) rotate(-90) scale(1,0.95)" font-size="16.6" text-anchor="start" stroke-width="0.3" >- Yb 4p3</text>
<text transform="translate(539.90,253.40) rotate(-90) scale(1,0.95)" font-size="16.6" text-anchor="start" stroke-width="0.3" >- C 1s</text>
<text transform="translate(593.80,245.00) rotate(-90) scale(1,0.95)" font-size="16.6" text-anchor="start" stroke-width="0.3" >- Yb 4d</text>
<text transform="translate(627.70,283.60) rotate(-90) scale(1,0.95)" font-size="16.6" text-anchor="start" stroke-width="0.3" >- Ce 4d</text>
<text transform="translate(671.10,297.60) rotate(-90) scale(1,0.95)" font-size="16.6" text-anchor="start" stroke-width="0.3" >- O 2s</text>
</g>
<rect x="455.5" y="14.3" width="219.9" height="133" fill="#fff" stroke="#555" stroke-width="1"/>
<g stroke-width="2.1" fill="none" stroke-linecap="round">
<line x1="457.5" y1="27" x2="499" y2="27" stroke="#3d3f9f"/>
<line x1="457.5" y1="53.3" x2="499" y2="53.3" stroke="#3e80cb"/>
<line x1="457.5" y1="79.5" x2="499" y2="79.5" stroke="#41b98a"/>
<line x1="457.5" y1="105.8" x2="499" y2="105.8" stroke="#d2dc3f"/>
<line x1="457.5" y1="132.1" x2="499" y2="132.1" stroke="#f04e23"/>
</g>
<g font-family="Liberation Sans, Arial, sans-serif" fill="#000" stroke="#000" stroke-width="0.15" font-size="17.4">
<text><tspan x="503.98" y="33.30" font-size="17.4" textLength="24.20" lengthAdjust="spacingAndGlyphs">1.0</tspan><tspan> </tspan><tspan x="533.82" y="33.30" font-size="17.4" textLength="21.51" lengthAdjust="spacingAndGlyphs">Yb</tspan><tspan x="555.48" y="38.90" font-size="12.4" textLength="6.94" lengthAdjust="spacingAndGlyphs">2</tspan><tspan x="562.18" y="33.30" font-size="17.4" textLength="15.05" lengthAdjust="spacingAndGlyphs">O</tspan><tspan x="577.13" y="38.90" font-size="12.4" textLength="6.42" lengthAdjust="spacingAndGlyphs">3</tspan><tspan> </tspan><tspan x="588.12" y="33.30" font-size="17.4" textLength="5.67" lengthAdjust="spacingAndGlyphs">:</tspan><tspan> </tspan><tspan x="600.78" y="33.30" font-size="17.4" textLength="23.50" lengthAdjust="spacingAndGlyphs">1.0</tspan><tspan> </tspan><tspan x="628.91" y="33.30" font-size="17.4" textLength="37.82" lengthAdjust="spacingAndGlyphs">CeO</tspan><tspan x="666.48" y="38.90" font-size="12.4" textLength="6.94" lengthAdjust="spacingAndGlyphs">2</tspan></text>
<text><tspan x="503.82" y="59.60" font-size="17.4" textLength="24.41" lengthAdjust="spacingAndGlyphs">0.5</tspan><tspan> </tspan><tspan x="533.82" y="59.60" font-size="17.4" textLength="21.51" lengthAdjust="spacingAndGlyphs">Yb</tspan><tspan x="555.48" y="65.20" font-size="12.4" textLength="6.94" lengthAdjust="spacingAndGlyphs">2</tspan><tspan x="562.18" y="59.60" font-size="17.4" textLength="15.05" lengthAdjust="spacingAndGlyphs">O</tspan><tspan x="577.13" y="65.20" font-size="12.4" textLength="6.42" lengthAdjust="spacingAndGlyphs">3</tspan><tspan> </tspan><tspan x="588.12" y="59.60" font-size="17.4" textLength="5.67" lengthAdjust="spacingAndGlyphs">:</tspan><tspan> </tspan><tspan x="600.78" y="59.60" font-size="17.4" textLength="23.50" lengthAdjust="spacingAndGlyphs">1.0</tspan><tspan> </tspan><tspan x="628.91" y="59.60" font-size="17.4" textLength="37.82" lengthAdjust="spacingAndGlyphs">CeO</tspan><tspan x="666.48" y="65.20" font-size="12.4" textLength="6.94" lengthAdjust="spacingAndGlyphs">2</tspan></text>
<text><tspan x="503.98" y="85.80" font-size="17.4" textLength="24.20" lengthAdjust="spacingAndGlyphs">1.0</tspan><tspan> </tspan><tspan x="533.82" y="85.80" font-size="17.4" textLength="21.51" lengthAdjust="spacingAndGlyphs">Yb</tspan><tspan x="555.48" y="91.40" font-size="12.4" textLength="6.94" lengthAdjust="spacingAndGlyphs">2</tspan><tspan x="562.18" y="85.80" font-size="17.4" textLength="15.05" lengthAdjust="spacingAndGlyphs">O</tspan><tspan x="577.13" y="91.40" font-size="12.4" textLength="6.42" lengthAdjust="spacingAndGlyphs">3</tspan><tspan> </tspan><tspan x="588.12" y="85.80" font-size="17.4" textLength="5.67" lengthAdjust="spacingAndGlyphs">:</tspan><tspan> </tspan><tspan x="599.22" y="85.80" font-size="17.4" textLength="25.11" lengthAdjust="spacingAndGlyphs">0.5</tspan><tspan> </tspan><tspan x="628.91" y="85.80" font-size="17.4" textLength="37.82" lengthAdjust="spacingAndGlyphs">CeO</tspan><tspan x="666.48" y="91.40" font-size="12.4" textLength="6.94" lengthAdjust="spacingAndGlyphs">2</tspan></text>
<text><tspan x="503.72" y="112.10" font-size="17.4" textLength="21.51" lengthAdjust="spacingAndGlyphs">Yb</tspan><tspan x="525.38" y="117.70" font-size="12.4" textLength="6.94" lengthAdjust="spacingAndGlyphs">2</tspan><tspan x="532.08" y="112.10" font-size="17.4" textLength="15.05" lengthAdjust="spacingAndGlyphs">O</tspan><tspan x="547.03" y="117.70" font-size="12.4" textLength="6.42" lengthAdjust="spacingAndGlyphs">3</tspan></text>
<text><tspan x="503.21" y="138.40" font-size="17.4" textLength="37.82" lengthAdjust="spacingAndGlyphs">CeO</tspan><tspan x="540.78" y="144.00" font-size="12.4" textLength="6.94" lengthAdjust="spacingAndGlyphs">2</tspan></text>
</g>
</svg>
</body></html>
